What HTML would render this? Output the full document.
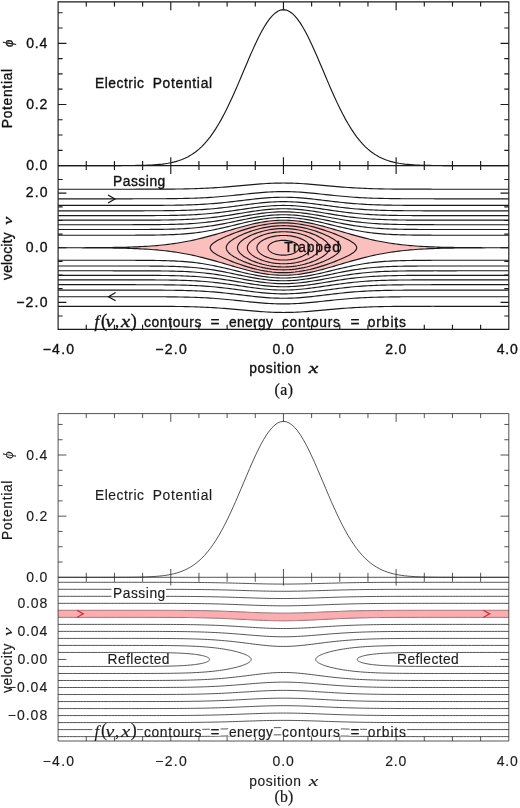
<!DOCTYPE html>
<html lang="en"><head><meta charset="utf-8"><title>Electron hole phase space</title>
<style>
html,body{margin:0;padding:0;background:#fff}
svg{display:block}
text{fill:#111}
.s{font-family:"Liberation Sans",sans-serif;font-size:13.8px}
.d{font-family:"Liberation Sans",sans-serif;font-size:14px}
.i{font-family:"Liberation Serif",serif;font-style:italic;font-size:16px}
.p{font-family:"Liberation Serif",serif;font-style:italic;font-size:14px}
.m{font-family:"Liberation Serif",serif;font-size:16.5px}
.mi{font-style:italic}
.mp{font-size:18px}
.r{font-family:"Liberation Serif",serif;font-size:15.8px}
.ta text{stroke:#111;stroke-width:.35px}
.ta .r,.tb .r{stroke:#111;stroke-width:.2px}
.tb text{fill:#1c1c1c;stroke:#1c1c1c;stroke-width:.15px}
</style></head><body>
<svg width="520" height="808" viewBox="0 0 520 808">
<rect width="520" height="808" fill="#fff"/>
<g fill="none" stroke="#1a1a1a" stroke-width="1.15" stroke-linecap="butt">
<path d="M58.1,247.74L60.92,247.74L63.73,247.74L66.55,247.73L69.37,247.73L72.18,247.73L75,247.72L77.82,247.71L80.63,247.71L83.45,247.7L86.27,247.69L89.09,247.68L91.9,247.66L94.72,247.65L97.54,247.63L100.35,247.61L103.17,247.59L105.99,247.56L108.8,247.52L111.62,247.49L114.44,247.44L117.25,247.39L120.07,247.34L122.89,247.28L125.71,247.2L128.52,247.12L131.34,247.03L134.16,246.93L136.97,246.81L139.79,246.68L142.61,246.54L145.42,246.38L148.24,246.2L151.06,246.01L153.87,245.79L156.69,245.56L159.51,245.3L162.32,245.02L165.14,244.71L167.96,244.38L170.78,244.02L173.59,243.63L176.41,243.22L179.23,242.77L182.04,242.3L184.86,241.79L187.68,241.25L190.49,240.69L193.31,240.09L196.13,239.46L198.94,238.8L201.76,238.12L204.58,237.41L207.39,236.67L210.21,235.91L213.03,235.13L215.84,234.34L218.66,233.53L221.48,232.7L224.3,231.87L227.11,231.04L229.93,230.2L232.75,229.37L235.56,228.55L238.38,227.74L241.2,226.95L244.01,226.18L246.83,225.44L249.65,224.73L252.46,224.06L255.28,223.43L258.1,222.85L260.92,222.31L263.73,221.83L266.55,221.41L269.37,221.04L272.18,220.74L275,220.5L277.82,220.33L280.63,220.23L283.45,220.2L286.27,220.23L289.08,220.33L291.9,220.5L294.72,220.74L297.53,221.04L300.35,221.41L303.17,221.83L305.99,222.31L308.8,222.85L311.62,223.43L314.44,224.06L317.25,224.73L320.07,225.44L322.89,226.18L325.7,226.95L328.52,227.74L331.34,228.55L334.15,229.37L336.97,230.2L339.79,231.04L342.6,231.87L345.42,232.7L348.24,233.53L351.06,234.34L353.87,235.13L356.69,235.91L359.51,236.67L362.32,237.41L365.14,238.12L367.96,238.8L370.77,239.46L373.59,240.09L376.41,240.69L379.22,241.25L382.04,241.79L384.86,242.3L387.67,242.77L390.49,243.22L393.31,243.63L396.12,244.02L398.94,244.38L401.76,244.71L404.58,245.02L407.39,245.3L410.21,245.56L413.03,245.79L415.84,246.01L418.66,246.2L421.48,246.38L424.29,246.54L427.11,246.68L429.93,246.81L432.74,246.93L435.56,247.03L438.38,247.12L441.2,247.2L444.01,247.28L446.83,247.34L449.65,247.39L452.46,247.44L455.28,247.49L458.1,247.52L460.91,247.56L463.73,247.59L466.55,247.61L469.36,247.63L472.18,247.65L475,247.66L477.81,247.68L480.63,247.69L483.45,247.7L486.27,247.71L489.08,247.71L491.9,247.72L494.72,247.73L497.53,247.73L500.35,247.73L503.17,247.74L505.98,247.74L508.8,247.74L508.8,247.76L505.98,247.76L503.17,247.76L500.35,247.77L497.53,247.77L494.72,247.77L491.9,247.78L489.08,247.79L486.27,247.79L483.45,247.8L480.63,247.81L477.81,247.82L475,247.84L472.18,247.85L469.36,247.87L466.55,247.89L463.73,247.91L460.91,247.94L458.1,247.98L455.28,248.01L452.46,248.06L449.65,248.11L446.83,248.16L444.01,248.22L441.2,248.3L438.38,248.38L435.56,248.47L432.74,248.57L429.93,248.69L427.11,248.82L424.29,248.96L421.48,249.12L418.66,249.3L415.84,249.49L413.03,249.71L410.21,249.94L407.39,250.2L404.58,250.48L401.76,250.79L398.94,251.12L396.12,251.48L393.31,251.87L390.49,252.28L387.67,252.73L384.86,253.2L382.04,253.71L379.22,254.25L376.41,254.81L373.59,255.41L370.77,256.04L367.96,256.7L365.14,257.38L362.32,258.09L359.51,258.83L356.69,259.59L353.87,260.37L351.06,261.16L348.24,261.97L345.42,262.8L342.6,263.63L339.79,264.46L336.97,265.3L334.15,266.13L331.34,266.95L328.52,267.76L325.7,268.55L322.89,269.32L320.07,270.06L317.25,270.77L314.44,271.44L311.62,272.07L308.8,272.65L305.99,273.19L303.17,273.67L300.35,274.09L297.53,274.46L294.72,274.76L291.9,275L289.08,275.17L286.27,275.27L283.45,275.3L280.63,275.27L277.82,275.17L275,275L272.18,274.76L269.37,274.46L266.55,274.09L263.73,273.67L260.92,273.19L258.1,272.65L255.28,272.07L252.46,271.44L249.65,270.77L246.83,270.06L244.01,269.32L241.2,268.55L238.38,267.76L235.56,266.95L232.75,266.13L229.93,265.3L227.11,264.46L224.3,263.63L221.48,262.8L218.66,261.97L215.84,261.16L213.03,260.37L210.21,259.59L207.39,258.83L204.58,258.09L201.76,257.38L198.94,256.7L196.13,256.04L193.31,255.41L190.49,254.81L187.68,254.25L184.86,253.71L182.04,253.2L179.23,252.73L176.41,252.28L173.59,251.87L170.78,251.48L167.96,251.12L165.14,250.79L162.32,250.48L159.51,250.2L156.69,249.94L153.87,249.71L151.06,249.49L148.24,249.3L145.42,249.12L142.61,248.96L139.79,248.82L136.97,248.69L134.16,248.57L131.34,248.47L128.52,248.38L125.71,248.3L122.89,248.22L120.07,248.16L117.25,248.11L114.44,248.06L111.62,248.01L108.8,247.98L105.99,247.94L103.17,247.91L100.35,247.89L97.54,247.87L94.72,247.85L91.9,247.84L89.09,247.82L86.27,247.81L83.45,247.8L80.63,247.79L77.82,247.79L75,247.78L72.18,247.77L69.37,247.77L66.55,247.77L63.73,247.76L60.92,247.76L58.1,247.76Z" fill="#fbbfbe" stroke="none"/>
<path d="M58.1,235.23L60.92,235.23L63.73,235.23L66.55,235.23L69.37,235.23L72.18,235.23L75,235.23L77.82,235.23L80.63,235.23L83.45,235.23L86.27,235.23L89.09,235.23L91.9,235.23L94.72,235.23L97.54,235.23L100.35,235.22L103.17,235.22L105.99,235.22L108.8,235.22L111.62,235.22L114.44,235.22L117.25,235.22L120.07,235.22L122.89,235.22L125.71,235.21L128.52,235.21L131.34,235.21L134.16,235.2L136.97,235.19L139.79,235.18L142.61,235.17L145.42,235.15L148.24,235.13L151.06,235.11L153.87,235.07L156.69,235.04L159.51,234.99L162.32,234.93L165.14,234.86L167.96,234.78L170.78,234.68L173.59,234.57L176.41,234.43L179.23,234.27L182.04,234.09L184.86,233.88L187.68,233.64L190.49,233.37L193.31,233.07L196.13,232.73L198.94,232.36L201.76,231.95L204.58,231.51L207.39,231.03L210.21,230.52L213.03,229.97L215.84,229.4L218.66,228.8L221.48,228.17L224.3,227.53L227.11,226.87L229.93,226.19L232.75,225.51L235.56,224.83L238.38,224.14L241.2,223.47L244.01,222.81L246.83,222.17L249.65,221.55L252.46,220.96L255.28,220.4L258.1,219.88L260.92,219.4L263.73,218.96L266.55,218.58L269.37,218.25L272.18,217.98L275,217.76L277.82,217.61L280.63,217.51L283.45,217.48L286.27,217.51L289.08,217.61L291.9,217.76L294.72,217.98L297.53,218.25L300.35,218.58L303.17,218.96L305.99,219.4L308.8,219.88L311.62,220.4L314.44,220.96L317.25,221.55L320.07,222.17L322.89,222.81L325.7,223.47L328.52,224.14L331.34,224.83L334.15,225.51L336.97,226.19L339.79,226.87L342.6,227.53L345.42,228.17L348.24,228.8L351.06,229.4L353.87,229.97L356.69,230.52L359.51,231.03L362.32,231.51L365.14,231.95L367.96,232.36L370.77,232.73L373.59,233.07L376.41,233.37L379.22,233.64L382.04,233.88L384.86,234.09L387.67,234.27L390.49,234.43L393.31,234.57L396.12,234.68L398.94,234.78L401.76,234.86L404.58,234.93L407.39,234.99L410.21,235.04L413.03,235.07L415.84,235.11L418.66,235.13L421.48,235.15L424.29,235.17L427.11,235.18L429.93,235.19L432.74,235.2L435.56,235.21L438.38,235.21L441.2,235.21L444.01,235.22L446.83,235.22L449.65,235.22L452.46,235.22L455.28,235.22L458.1,235.22L460.91,235.22L463.73,235.22L466.55,235.22L469.36,235.23L472.18,235.23L475,235.23L477.81,235.23L480.63,235.23L483.45,235.23L486.27,235.23L489.08,235.23L491.9,235.23L494.72,235.23L497.53,235.23L500.35,235.23L503.17,235.23L505.98,235.23L508.8,235.23M58.1,260.27L60.92,260.27L63.73,260.27L66.55,260.27L69.37,260.27L72.18,260.27L75,260.27L77.82,260.27L80.63,260.27L83.45,260.27L86.27,260.27L89.09,260.27L91.9,260.27L94.72,260.27L97.54,260.27L100.35,260.28L103.17,260.28L105.99,260.28L108.8,260.28L111.62,260.28L114.44,260.28L117.25,260.28L120.07,260.28L122.89,260.28L125.71,260.29L128.52,260.29L131.34,260.29L134.16,260.3L136.97,260.31L139.79,260.32L142.61,260.33L145.42,260.35L148.24,260.37L151.06,260.39L153.87,260.43L156.69,260.46L159.51,260.51L162.32,260.57L165.14,260.64L167.96,260.72L170.78,260.82L173.59,260.93L176.41,261.07L179.23,261.23L182.04,261.41L184.86,261.62L187.68,261.86L190.49,262.13L193.31,262.43L196.13,262.77L198.94,263.14L201.76,263.55L204.58,263.99L207.39,264.47L210.21,264.98L213.03,265.53L215.84,266.1L218.66,266.7L221.48,267.33L224.3,267.97L227.11,268.63L229.93,269.31L232.75,269.99L235.56,270.67L238.38,271.36L241.2,272.03L244.01,272.69L246.83,273.33L249.65,273.95L252.46,274.54L255.28,275.1L258.1,275.62L260.92,276.1L263.73,276.54L266.55,276.92L269.37,277.25L272.18,277.52L275,277.74L277.82,277.89L280.63,277.99L283.45,278.02L286.27,277.99L289.08,277.89L291.9,277.74L294.72,277.52L297.53,277.25L300.35,276.92L303.17,276.54L305.99,276.1L308.8,275.62L311.62,275.1L314.44,274.54L317.25,273.95L320.07,273.33L322.89,272.69L325.7,272.03L328.52,271.36L331.34,270.67L334.15,269.99L336.97,269.31L339.79,268.63L342.6,267.97L345.42,267.33L348.24,266.7L351.06,266.1L353.87,265.53L356.69,264.98L359.51,264.47L362.32,263.99L365.14,263.55L367.96,263.14L370.77,262.77L373.59,262.43L376.41,262.13L379.22,261.86L382.04,261.62L384.86,261.41L387.67,261.23L390.49,261.07L393.31,260.93L396.12,260.82L398.94,260.72L401.76,260.64L404.58,260.57L407.39,260.51L410.21,260.46L413.03,260.43L415.84,260.39L418.66,260.37L421.48,260.35L424.29,260.33L427.11,260.32L429.93,260.31L432.74,260.3L435.56,260.29L438.38,260.29L441.2,260.29L444.01,260.28L446.83,260.28L449.65,260.28L452.46,260.28L455.28,260.28L458.1,260.28L460.91,260.28L463.73,260.28L466.55,260.28L469.36,260.27L472.18,260.27L475,260.27L477.81,260.27L480.63,260.27L483.45,260.27L486.27,260.27L489.08,260.27L491.9,260.27L494.72,260.27L497.53,260.27L500.35,260.27L503.17,260.27L505.98,260.27L508.8,260.27M58.1,229.52L60.92,229.52L63.73,229.52L66.55,229.52L69.37,229.52L72.18,229.52L75,229.52L77.82,229.52L80.63,229.52L83.45,229.52L86.27,229.52L89.09,229.52L91.9,229.52L94.72,229.52L97.54,229.52L100.35,229.52L103.17,229.52L105.99,229.52L108.8,229.52L111.62,229.52L114.44,229.52L117.25,229.52L120.07,229.52L122.89,229.52L125.71,229.52L128.52,229.51L131.34,229.51L134.16,229.5L136.97,229.5L139.79,229.49L142.61,229.48L145.42,229.47L148.24,229.46L151.06,229.44L153.87,229.42L156.69,229.39L159.51,229.36L162.32,229.32L165.14,229.27L167.96,229.21L170.78,229.15L173.59,229.06L176.41,228.97L179.23,228.86L182.04,228.73L184.86,228.57L187.68,228.4L190.49,228.2L193.31,227.98L196.13,227.73L198.94,227.45L201.76,227.14L204.58,226.79L207.39,226.42L210.21,226.02L213.03,225.58L215.84,225.12L218.66,224.63L221.48,224.11L224.3,223.58L227.11,223.02L229.93,222.45L232.75,221.87L235.56,221.28L238.38,220.68L241.2,220.09L244.01,219.51L246.83,218.94L249.65,218.39L252.46,217.86L255.28,217.36L258.1,216.89L260.92,216.46L263.73,216.07L266.55,215.72L269.37,215.42L272.18,215.17L275,214.97L277.82,214.83L280.63,214.74L283.45,214.71L286.27,214.74L289.08,214.83L291.9,214.97L294.72,215.17L297.53,215.42L300.35,215.72L303.17,216.07L305.99,216.46L308.8,216.89L311.62,217.36L314.44,217.86L317.25,218.39L320.07,218.94L322.89,219.51L325.7,220.09L328.52,220.68L331.34,221.28L334.15,221.87L336.97,222.45L339.79,223.02L342.6,223.58L345.42,224.11L348.24,224.63L351.06,225.12L353.87,225.58L356.69,226.02L359.51,226.42L362.32,226.79L365.14,227.14L367.96,227.45L370.77,227.73L373.59,227.98L376.41,228.2L379.22,228.4L382.04,228.57L384.86,228.73L387.67,228.86L390.49,228.97L393.31,229.06L396.12,229.15L398.94,229.21L401.76,229.27L404.58,229.32L407.39,229.36L410.21,229.39L413.03,229.42L415.84,229.44L418.66,229.46L421.48,229.47L424.29,229.48L427.11,229.49L429.93,229.5L432.74,229.5L435.56,229.51L438.38,229.51L441.2,229.52L444.01,229.52L446.83,229.52L449.65,229.52L452.46,229.52L455.28,229.52L458.1,229.52L460.91,229.52L463.73,229.52L466.55,229.52L469.36,229.52L472.18,229.52L475,229.52L477.81,229.52L480.63,229.52L483.45,229.52L486.27,229.52L489.08,229.52L491.9,229.52L494.72,229.52L497.53,229.52L500.35,229.52L503.17,229.52L505.98,229.52L508.8,229.52M58.1,265.98L60.92,265.98L63.73,265.98L66.55,265.98L69.37,265.98L72.18,265.98L75,265.98L77.82,265.98L80.63,265.98L83.45,265.98L86.27,265.98L89.09,265.98L91.9,265.98L94.72,265.98L97.54,265.98L100.35,265.98L103.17,265.98L105.99,265.98L108.8,265.98L111.62,265.98L114.44,265.98L117.25,265.98L120.07,265.98L122.89,265.98L125.71,265.98L128.52,265.99L131.34,265.99L134.16,266L136.97,266L139.79,266.01L142.61,266.02L145.42,266.03L148.24,266.04L151.06,266.06L153.87,266.08L156.69,266.11L159.51,266.14L162.32,266.18L165.14,266.23L167.96,266.29L170.78,266.35L173.59,266.44L176.41,266.53L179.23,266.64L182.04,266.77L184.86,266.93L187.68,267.1L190.49,267.3L193.31,267.52L196.13,267.77L198.94,268.05L201.76,268.36L204.58,268.71L207.39,269.08L210.21,269.48L213.03,269.92L215.84,270.38L218.66,270.87L221.48,271.39L224.3,271.92L227.11,272.48L229.93,273.05L232.75,273.63L235.56,274.22L238.38,274.82L241.2,275.41L244.01,275.99L246.83,276.56L249.65,277.11L252.46,277.64L255.28,278.14L258.1,278.61L260.92,279.04L263.73,279.43L266.55,279.78L269.37,280.08L272.18,280.33L275,280.53L277.82,280.67L280.63,280.76L283.45,280.79L286.27,280.76L289.08,280.67L291.9,280.53L294.72,280.33L297.53,280.08L300.35,279.78L303.17,279.43L305.99,279.04L308.8,278.61L311.62,278.14L314.44,277.64L317.25,277.11L320.07,276.56L322.89,275.99L325.7,275.41L328.52,274.82L331.34,274.22L334.15,273.63L336.97,273.05L339.79,272.48L342.6,271.92L345.42,271.39L348.24,270.87L351.06,270.38L353.87,269.92L356.69,269.48L359.51,269.08L362.32,268.71L365.14,268.36L367.96,268.05L370.77,267.77L373.59,267.52L376.41,267.3L379.22,267.1L382.04,266.93L384.86,266.77L387.67,266.64L390.49,266.53L393.31,266.44L396.12,266.35L398.94,266.29L401.76,266.23L404.58,266.18L407.39,266.14L410.21,266.11L413.03,266.08L415.84,266.06L418.66,266.04L421.48,266.03L424.29,266.02L427.11,266.01L429.93,266L432.74,266L435.56,265.99L438.38,265.99L441.2,265.98L444.01,265.98L446.83,265.98L449.65,265.98L452.46,265.98L455.28,265.98L458.1,265.98L460.91,265.98L463.73,265.98L466.55,265.98L469.36,265.98L472.18,265.98L475,265.98L477.81,265.98L480.63,265.98L483.45,265.98L486.27,265.98L489.08,265.98L491.9,265.98L494.72,265.98L497.53,265.98L500.35,265.98L503.17,265.98L505.98,265.98L508.8,265.98M58.1,224.71L60.92,224.71L63.73,224.71L66.55,224.71L69.37,224.71L72.18,224.71L75,224.71L77.82,224.71L80.63,224.71L83.45,224.71L86.27,224.71L89.09,224.71L91.9,224.71L94.72,224.71L97.54,224.71L100.35,224.71L103.17,224.71L105.99,224.71L108.8,224.71L111.62,224.7L114.44,224.7L117.25,224.7L120.07,224.7L122.89,224.7L125.71,224.7L128.52,224.7L131.34,224.7L134.16,224.69L136.97,224.69L139.79,224.68L142.61,224.67L145.42,224.67L148.24,224.65L151.06,224.64L153.87,224.62L156.69,224.6L159.51,224.58L162.32,224.55L165.14,224.51L167.96,224.46L170.78,224.41L173.59,224.34L176.41,224.27L179.23,224.18L182.04,224.07L184.86,223.95L187.68,223.81L190.49,223.65L193.31,223.47L196.13,223.26L198.94,223.03L201.76,222.78L204.58,222.49L207.39,222.18L210.21,221.84L213.03,221.48L215.84,221.09L218.66,220.67L221.48,220.23L224.3,219.77L227.11,219.28L229.93,218.79L232.75,218.28L235.56,217.76L238.38,217.23L241.2,216.71L244.01,216.19L246.83,215.68L249.65,215.18L252.46,214.7L255.28,214.25L258.1,213.82L260.92,213.43L263.73,213.07L266.55,212.75L269.37,212.48L272.18,212.25L275,212.07L277.82,211.93L280.63,211.86L283.45,211.83L286.27,211.86L289.08,211.93L291.9,212.07L294.72,212.25L297.53,212.48L300.35,212.75L303.17,213.07L305.99,213.43L308.8,213.82L311.62,214.25L314.44,214.7L317.25,215.18L320.07,215.68L322.89,216.19L325.7,216.71L328.52,217.23L331.34,217.76L334.15,218.28L336.97,218.79L339.79,219.28L342.6,219.77L345.42,220.23L348.24,220.67L351.06,221.09L353.87,221.48L356.69,221.84L359.51,222.18L362.32,222.49L365.14,222.78L367.96,223.03L370.77,223.26L373.59,223.47L376.41,223.65L379.22,223.81L382.04,223.95L384.86,224.07L387.67,224.18L390.49,224.27L393.31,224.34L396.12,224.41L398.94,224.46L401.76,224.51L404.58,224.55L407.39,224.58L410.21,224.6L413.03,224.62L415.84,224.64L418.66,224.65L421.48,224.67L424.29,224.67L427.11,224.68L429.93,224.69L432.74,224.69L435.56,224.7L438.38,224.7L441.2,224.7L444.01,224.7L446.83,224.7L449.65,224.7L452.46,224.7L455.28,224.7L458.1,224.71L460.91,224.71L463.73,224.71L466.55,224.71L469.36,224.71L472.18,224.71L475,224.71L477.81,224.71L480.63,224.71L483.45,224.71L486.27,224.71L489.08,224.71L491.9,224.71L494.72,224.71L497.53,224.71L500.35,224.71L503.17,224.71L505.98,224.71L508.8,224.71M58.1,270.79L60.92,270.79L63.73,270.79L66.55,270.79L69.37,270.79L72.18,270.79L75,270.79L77.82,270.79L80.63,270.79L83.45,270.79L86.27,270.79L89.09,270.79L91.9,270.79L94.72,270.79L97.54,270.79L100.35,270.79L103.17,270.79L105.99,270.79L108.8,270.79L111.62,270.8L114.44,270.8L117.25,270.8L120.07,270.8L122.89,270.8L125.71,270.8L128.52,270.8L131.34,270.8L134.16,270.81L136.97,270.81L139.79,270.82L142.61,270.83L145.42,270.83L148.24,270.85L151.06,270.86L153.87,270.88L156.69,270.9L159.51,270.92L162.32,270.95L165.14,270.99L167.96,271.04L170.78,271.09L173.59,271.16L176.41,271.23L179.23,271.32L182.04,271.43L184.86,271.55L187.68,271.69L190.49,271.85L193.31,272.03L196.13,272.24L198.94,272.47L201.76,272.72L204.58,273.01L207.39,273.32L210.21,273.66L213.03,274.02L215.84,274.41L218.66,274.83L221.48,275.27L224.3,275.73L227.11,276.22L229.93,276.71L232.75,277.22L235.56,277.74L238.38,278.27L241.2,278.79L244.01,279.31L246.83,279.82L249.65,280.32L252.46,280.8L255.28,281.25L258.1,281.68L260.92,282.07L263.73,282.43L266.55,282.75L269.37,283.02L272.18,283.25L275,283.43L277.82,283.57L280.63,283.64L283.45,283.67L286.27,283.64L289.08,283.57L291.9,283.43L294.72,283.25L297.53,283.02L300.35,282.75L303.17,282.43L305.99,282.07L308.8,281.68L311.62,281.25L314.44,280.8L317.25,280.32L320.07,279.82L322.89,279.31L325.7,278.79L328.52,278.27L331.34,277.74L334.15,277.22L336.97,276.71L339.79,276.22L342.6,275.73L345.42,275.27L348.24,274.83L351.06,274.41L353.87,274.02L356.69,273.66L359.51,273.32L362.32,273.01L365.14,272.72L367.96,272.47L370.77,272.24L373.59,272.03L376.41,271.85L379.22,271.69L382.04,271.55L384.86,271.43L387.67,271.32L390.49,271.23L393.31,271.16L396.12,271.09L398.94,271.04L401.76,270.99L404.58,270.95L407.39,270.92L410.21,270.9L413.03,270.88L415.84,270.86L418.66,270.85L421.48,270.83L424.29,270.83L427.11,270.82L429.93,270.81L432.74,270.81L435.56,270.8L438.38,270.8L441.2,270.8L444.01,270.8L446.83,270.8L449.65,270.8L452.46,270.8L455.28,270.8L458.1,270.79L460.91,270.79L463.73,270.79L466.55,270.79L469.36,270.79L472.18,270.79L475,270.79L477.81,270.79L480.63,270.79L483.45,270.79L486.27,270.79L489.08,270.79L491.9,270.79L494.72,270.79L497.53,270.79L500.35,270.79L503.17,270.79L505.98,270.79L508.8,270.79M58.1,220.17L60.92,220.17L63.73,220.17L66.55,220.17L69.37,220.17L72.18,220.17L75,220.17L77.82,220.17L80.63,220.17L83.45,220.17L86.27,220.17L89.09,220.17L91.9,220.17L94.72,220.17L97.54,220.17L100.35,220.17L103.17,220.17L105.99,220.17L108.8,220.17L111.62,220.17L114.44,220.17L117.25,220.17L120.07,220.17L122.89,220.17L125.71,220.17L128.52,220.17L131.34,220.16L134.16,220.16L136.97,220.16L139.79,220.15L142.61,220.15L145.42,220.14L148.24,220.13L151.06,220.12L153.87,220.1L156.69,220.09L159.51,220.06L162.32,220.04L165.14,220.01L167.96,219.97L170.78,219.92L173.59,219.87L176.41,219.8L179.23,219.73L182.04,219.64L184.86,219.54L187.68,219.42L190.49,219.28L193.31,219.13L196.13,218.95L198.94,218.76L201.76,218.54L204.58,218.3L207.39,218.03L210.21,217.74L213.03,217.42L215.84,217.08L218.66,216.72L221.48,216.33L224.3,215.93L227.11,215.5L229.93,215.06L232.75,214.61L235.56,214.15L238.38,213.68L241.2,213.21L244.01,212.74L246.83,212.28L249.65,211.83L252.46,211.4L255.28,210.98L258.1,210.59L260.92,210.23L263.73,209.91L266.55,209.61L269.37,209.36L272.18,209.15L275,208.98L277.82,208.86L280.63,208.79L283.45,208.77L286.27,208.79L289.08,208.86L291.9,208.98L294.72,209.15L297.53,209.36L300.35,209.61L303.17,209.91L305.99,210.23L308.8,210.59L311.62,210.98L314.44,211.4L317.25,211.83L320.07,212.28L322.89,212.74L325.7,213.21L328.52,213.68L331.34,214.15L334.15,214.61L336.97,215.06L339.79,215.5L342.6,215.93L345.42,216.33L348.24,216.72L351.06,217.08L353.87,217.42L356.69,217.74L359.51,218.03L362.32,218.3L365.14,218.54L367.96,218.76L370.77,218.95L373.59,219.13L376.41,219.28L379.22,219.42L382.04,219.54L384.86,219.64L387.67,219.73L390.49,219.8L393.31,219.87L396.12,219.92L398.94,219.97L401.76,220.01L404.58,220.04L407.39,220.06L410.21,220.09L413.03,220.1L415.84,220.12L418.66,220.13L421.48,220.14L424.29,220.15L427.11,220.15L429.93,220.16L432.74,220.16L435.56,220.16L438.38,220.17L441.2,220.17L444.01,220.17L446.83,220.17L449.65,220.17L452.46,220.17L455.28,220.17L458.1,220.17L460.91,220.17L463.73,220.17L466.55,220.17L469.36,220.17L472.18,220.17L475,220.17L477.81,220.17L480.63,220.17L483.45,220.17L486.27,220.17L489.08,220.17L491.9,220.17L494.72,220.17L497.53,220.17L500.35,220.17L503.17,220.17L505.98,220.17L508.8,220.17M58.1,275.33L60.92,275.33L63.73,275.33L66.55,275.33L69.37,275.33L72.18,275.33L75,275.33L77.82,275.33L80.63,275.33L83.45,275.33L86.27,275.33L89.09,275.33L91.9,275.33L94.72,275.33L97.54,275.33L100.35,275.33L103.17,275.33L105.99,275.33L108.8,275.33L111.62,275.33L114.44,275.33L117.25,275.33L120.07,275.33L122.89,275.33L125.71,275.33L128.52,275.33L131.34,275.34L134.16,275.34L136.97,275.34L139.79,275.35L142.61,275.35L145.42,275.36L148.24,275.37L151.06,275.38L153.87,275.4L156.69,275.41L159.51,275.44L162.32,275.46L165.14,275.49L167.96,275.53L170.78,275.58L173.59,275.63L176.41,275.7L179.23,275.77L182.04,275.86L184.86,275.96L187.68,276.08L190.49,276.22L193.31,276.37L196.13,276.55L198.94,276.74L201.76,276.96L204.58,277.2L207.39,277.47L210.21,277.76L213.03,278.08L215.84,278.42L218.66,278.78L221.48,279.17L224.3,279.57L227.11,280L229.93,280.44L232.75,280.89L235.56,281.35L238.38,281.82L241.2,282.29L244.01,282.76L246.83,283.22L249.65,283.67L252.46,284.1L255.28,284.52L258.1,284.91L260.92,285.27L263.73,285.59L266.55,285.89L269.37,286.14L272.18,286.35L275,286.52L277.82,286.64L280.63,286.71L283.45,286.73L286.27,286.71L289.08,286.64L291.9,286.52L294.72,286.35L297.53,286.14L300.35,285.89L303.17,285.59L305.99,285.27L308.8,284.91L311.62,284.52L314.44,284.1L317.25,283.67L320.07,283.22L322.89,282.76L325.7,282.29L328.52,281.82L331.34,281.35L334.15,280.89L336.97,280.44L339.79,280L342.6,279.57L345.42,279.17L348.24,278.78L351.06,278.42L353.87,278.08L356.69,277.76L359.51,277.47L362.32,277.2L365.14,276.96L367.96,276.74L370.77,276.55L373.59,276.37L376.41,276.22L379.22,276.08L382.04,275.96L384.86,275.86L387.67,275.77L390.49,275.7L393.31,275.63L396.12,275.58L398.94,275.53L401.76,275.49L404.58,275.46L407.39,275.44L410.21,275.41L413.03,275.4L415.84,275.38L418.66,275.37L421.48,275.36L424.29,275.35L427.11,275.35L429.93,275.34L432.74,275.34L435.56,275.34L438.38,275.33L441.2,275.33L444.01,275.33L446.83,275.33L449.65,275.33L452.46,275.33L455.28,275.33L458.1,275.33L460.91,275.33L463.73,275.33L466.55,275.33L469.36,275.33L472.18,275.33L475,275.33L477.81,275.33L480.63,275.33L483.45,275.33L486.27,275.33L489.08,275.33L491.9,275.33L494.72,275.33L497.53,275.33L500.35,275.33L503.17,275.33L505.98,275.33L508.8,275.33M58.1,215.63L60.92,215.63L63.73,215.63L66.55,215.63L69.37,215.63L72.18,215.63L75,215.63L77.82,215.63L80.63,215.63L83.45,215.63L86.27,215.63L89.09,215.63L91.9,215.63L94.72,215.63L97.54,215.63L100.35,215.63L103.17,215.63L105.99,215.63L108.8,215.63L111.62,215.63L114.44,215.62L117.25,215.62L120.07,215.62L122.89,215.62L125.71,215.62L128.52,215.62L131.34,215.62L134.16,215.62L136.97,215.61L139.79,215.61L142.61,215.6L145.42,215.6L148.24,215.59L151.06,215.58L153.87,215.57L156.69,215.55L159.51,215.53L162.32,215.51L165.14,215.48L167.96,215.45L170.78,215.41L173.59,215.36L176.41,215.31L179.23,215.24L182.04,215.17L184.86,215.08L187.68,214.98L190.49,214.86L193.31,214.73L196.13,214.57L198.94,214.4L201.76,214.21L204.58,214L207.39,213.77L210.21,213.52L213.03,213.24L215.84,212.94L218.66,212.62L221.48,212.28L224.3,211.92L227.11,211.54L229.93,211.15L232.75,210.74L235.56,210.33L238.38,209.9L241.2,209.48L244.01,209.06L246.83,208.64L249.65,208.23L252.46,207.84L255.28,207.46L258.1,207.11L260.92,206.78L263.73,206.47L266.55,206.21L269.37,205.97L272.18,205.78L275,205.63L277.82,205.52L280.63,205.45L283.45,205.43L286.27,205.45L289.08,205.52L291.9,205.63L294.72,205.78L297.53,205.97L300.35,206.21L303.17,206.47L305.99,206.78L308.8,207.11L311.62,207.46L314.44,207.84L317.25,208.23L320.07,208.64L322.89,209.06L325.7,209.48L328.52,209.9L331.34,210.33L334.15,210.74L336.97,211.15L339.79,211.54L342.6,211.92L345.42,212.28L348.24,212.62L351.06,212.94L353.87,213.24L356.69,213.52L359.51,213.77L362.32,214L365.14,214.21L367.96,214.4L370.77,214.57L373.59,214.73L376.41,214.86L379.22,214.98L382.04,215.08L384.86,215.17L387.67,215.24L390.49,215.31L393.31,215.36L396.12,215.41L398.94,215.45L401.76,215.48L404.58,215.51L407.39,215.53L410.21,215.55L413.03,215.57L415.84,215.58L418.66,215.59L421.48,215.6L424.29,215.6L427.11,215.61L429.93,215.61L432.74,215.62L435.56,215.62L438.38,215.62L441.2,215.62L444.01,215.62L446.83,215.62L449.65,215.62L452.46,215.62L455.28,215.63L458.1,215.63L460.91,215.63L463.73,215.63L466.55,215.63L469.36,215.63L472.18,215.63L475,215.63L477.81,215.63L480.63,215.63L483.45,215.63L486.27,215.63L489.08,215.63L491.9,215.63L494.72,215.63L497.53,215.63L500.35,215.63L503.17,215.63L505.98,215.63L508.8,215.63M58.1,279.87L60.92,279.87L63.73,279.87L66.55,279.87L69.37,279.87L72.18,279.87L75,279.87L77.82,279.87L80.63,279.87L83.45,279.87L86.27,279.87L89.09,279.87L91.9,279.87L94.72,279.87L97.54,279.87L100.35,279.87L103.17,279.87L105.99,279.87L108.8,279.87L111.62,279.87L114.44,279.88L117.25,279.88L120.07,279.88L122.89,279.88L125.71,279.88L128.52,279.88L131.34,279.88L134.16,279.88L136.97,279.89L139.79,279.89L142.61,279.9L145.42,279.9L148.24,279.91L151.06,279.92L153.87,279.93L156.69,279.95L159.51,279.97L162.32,279.99L165.14,280.02L167.96,280.05L170.78,280.09L173.59,280.14L176.41,280.19L179.23,280.26L182.04,280.33L184.86,280.42L187.68,280.52L190.49,280.64L193.31,280.77L196.13,280.93L198.94,281.1L201.76,281.29L204.58,281.5L207.39,281.73L210.21,281.98L213.03,282.26L215.84,282.56L218.66,282.88L221.48,283.22L224.3,283.58L227.11,283.96L229.93,284.35L232.75,284.76L235.56,285.17L238.38,285.6L241.2,286.02L244.01,286.44L246.83,286.86L249.65,287.27L252.46,287.66L255.28,288.04L258.1,288.39L260.92,288.72L263.73,289.03L266.55,289.29L269.37,289.53L272.18,289.72L275,289.87L277.82,289.98L280.63,290.05L283.45,290.07L286.27,290.05L289.08,289.98L291.9,289.87L294.72,289.72L297.53,289.53L300.35,289.29L303.17,289.03L305.99,288.72L308.8,288.39L311.62,288.04L314.44,287.66L317.25,287.27L320.07,286.86L322.89,286.44L325.7,286.02L328.52,285.6L331.34,285.17L334.15,284.76L336.97,284.35L339.79,283.96L342.6,283.58L345.42,283.22L348.24,282.88L351.06,282.56L353.87,282.26L356.69,281.98L359.51,281.73L362.32,281.5L365.14,281.29L367.96,281.1L370.77,280.93L373.59,280.77L376.41,280.64L379.22,280.52L382.04,280.42L384.86,280.33L387.67,280.26L390.49,280.19L393.31,280.14L396.12,280.09L398.94,280.05L401.76,280.02L404.58,279.99L407.39,279.97L410.21,279.95L413.03,279.93L415.84,279.92L418.66,279.91L421.48,279.9L424.29,279.9L427.11,279.89L429.93,279.89L432.74,279.88L435.56,279.88L438.38,279.88L441.2,279.88L444.01,279.88L446.83,279.88L449.65,279.88L452.46,279.88L455.28,279.87L458.1,279.87L460.91,279.87L463.73,279.87L466.55,279.87L469.36,279.87L472.18,279.87L475,279.87L477.81,279.87L480.63,279.87L483.45,279.87L486.27,279.87L489.08,279.87L491.9,279.87L494.72,279.87L497.53,279.87L500.35,279.87L503.17,279.87L505.98,279.87L508.8,279.87M58.1,210.82L60.92,210.82L63.73,210.82L66.55,210.82L69.37,210.82L72.18,210.82L75,210.82L77.82,210.82L80.63,210.82L83.45,210.82L86.27,210.82L89.09,210.82L91.9,210.82L94.72,210.82L97.54,210.82L100.35,210.82L103.17,210.82L105.99,210.82L108.8,210.82L111.62,210.81L114.44,210.81L117.25,210.81L120.07,210.81L122.89,210.81L125.71,210.81L128.52,210.81L131.34,210.81L134.16,210.81L136.97,210.8L139.79,210.8L142.61,210.8L145.42,210.79L148.24,210.78L151.06,210.77L153.87,210.76L156.69,210.75L159.51,210.73L162.32,210.71L165.14,210.69L167.96,210.66L170.78,210.63L173.59,210.59L176.41,210.54L179.23,210.48L182.04,210.42L184.86,210.34L187.68,210.25L190.49,210.15L193.31,210.03L196.13,209.9L198.94,209.75L201.76,209.58L204.58,209.4L207.39,209.19L210.21,208.97L213.03,208.72L215.84,208.46L218.66,208.17L221.48,207.87L224.3,207.55L227.11,207.21L229.93,206.86L232.75,206.5L235.56,206.12L238.38,205.74L241.2,205.36L244.01,204.98L246.83,204.6L249.65,204.23L252.46,203.87L255.28,203.53L258.1,203.21L260.92,202.9L263.73,202.63L266.55,202.38L269.37,202.17L272.18,201.99L275,201.85L277.82,201.75L280.63,201.69L283.45,201.67L286.27,201.69L289.08,201.75L291.9,201.85L294.72,201.99L297.53,202.17L300.35,202.38L303.17,202.63L305.99,202.9L308.8,203.21L311.62,203.53L314.44,203.87L317.25,204.23L320.07,204.6L322.89,204.98L325.7,205.36L328.52,205.74L331.34,206.12L334.15,206.5L336.97,206.86L339.79,207.21L342.6,207.55L345.42,207.87L348.24,208.17L351.06,208.46L353.87,208.72L356.69,208.97L359.51,209.19L362.32,209.4L365.14,209.58L367.96,209.75L370.77,209.9L373.59,210.03L376.41,210.15L379.22,210.25L382.04,210.34L384.86,210.42L387.67,210.48L390.49,210.54L393.31,210.59L396.12,210.63L398.94,210.66L401.76,210.69L404.58,210.71L407.39,210.73L410.21,210.75L413.03,210.76L415.84,210.77L418.66,210.78L421.48,210.79L424.29,210.8L427.11,210.8L429.93,210.8L432.74,210.81L435.56,210.81L438.38,210.81L441.2,210.81L444.01,210.81L446.83,210.81L449.65,210.81L452.46,210.81L455.28,210.81L458.1,210.82L460.91,210.82L463.73,210.82L466.55,210.82L469.36,210.82L472.18,210.82L475,210.82L477.81,210.82L480.63,210.82L483.45,210.82L486.27,210.82L489.08,210.82L491.9,210.82L494.72,210.82L497.53,210.82L500.35,210.82L503.17,210.82L505.98,210.82L508.8,210.82M58.1,284.68L60.92,284.68L63.73,284.68L66.55,284.68L69.37,284.68L72.18,284.68L75,284.68L77.82,284.68L80.63,284.68L83.45,284.68L86.27,284.68L89.09,284.68L91.9,284.68L94.72,284.68L97.54,284.68L100.35,284.68L103.17,284.68L105.99,284.68L108.8,284.68L111.62,284.69L114.44,284.69L117.25,284.69L120.07,284.69L122.89,284.69L125.71,284.69L128.52,284.69L131.34,284.69L134.16,284.69L136.97,284.7L139.79,284.7L142.61,284.7L145.42,284.71L148.24,284.72L151.06,284.73L153.87,284.74L156.69,284.75L159.51,284.77L162.32,284.79L165.14,284.81L167.96,284.84L170.78,284.87L173.59,284.91L176.41,284.96L179.23,285.02L182.04,285.08L184.86,285.16L187.68,285.25L190.49,285.35L193.31,285.47L196.13,285.6L198.94,285.75L201.76,285.92L204.58,286.1L207.39,286.31L210.21,286.53L213.03,286.78L215.84,287.04L218.66,287.33L221.48,287.63L224.3,287.95L227.11,288.29L229.93,288.64L232.75,289L235.56,289.38L238.38,289.76L241.2,290.14L244.01,290.52L246.83,290.9L249.65,291.27L252.46,291.63L255.28,291.97L258.1,292.29L260.92,292.6L263.73,292.87L266.55,293.12L269.37,293.33L272.18,293.51L275,293.65L277.82,293.75L280.63,293.81L283.45,293.83L286.27,293.81L289.08,293.75L291.9,293.65L294.72,293.51L297.53,293.33L300.35,293.12L303.17,292.87L305.99,292.6L308.8,292.29L311.62,291.97L314.44,291.63L317.25,291.27L320.07,290.9L322.89,290.52L325.7,290.14L328.52,289.76L331.34,289.38L334.15,289L336.97,288.64L339.79,288.29L342.6,287.95L345.42,287.63L348.24,287.33L351.06,287.04L353.87,286.78L356.69,286.53L359.51,286.31L362.32,286.1L365.14,285.92L367.96,285.75L370.77,285.6L373.59,285.47L376.41,285.35L379.22,285.25L382.04,285.16L384.86,285.08L387.67,285.02L390.49,284.96L393.31,284.91L396.12,284.87L398.94,284.84L401.76,284.81L404.58,284.79L407.39,284.77L410.21,284.75L413.03,284.74L415.84,284.73L418.66,284.72L421.48,284.71L424.29,284.7L427.11,284.7L429.93,284.7L432.74,284.69L435.56,284.69L438.38,284.69L441.2,284.69L444.01,284.69L446.83,284.69L449.65,284.69L452.46,284.69L455.28,284.69L458.1,284.68L460.91,284.68L463.73,284.68L466.55,284.68L469.36,284.68L472.18,284.68L475,284.68L477.81,284.68L480.63,284.68L483.45,284.68L486.27,284.68L489.08,284.68L491.9,284.68L494.72,284.68L497.53,284.68L500.35,284.68L503.17,284.68L505.98,284.68L508.8,284.68M58.1,205.41L60.92,205.41L63.73,205.41L66.55,205.41L69.37,205.41L72.18,205.41L75,205.41L77.82,205.41L80.63,205.41L83.45,205.41L86.27,205.41L89.09,205.41L91.9,205.41L94.72,205.41L97.54,205.41L100.35,205.41L103.17,205.41L105.99,205.41L108.8,205.41L111.62,205.41L114.44,205.41L117.25,205.41L120.07,205.41L122.89,205.41L125.71,205.41L128.52,205.41L131.34,205.41L134.16,205.4L136.97,205.4L139.79,205.4L142.61,205.4L145.42,205.39L148.24,205.38L151.06,205.38L153.87,205.37L156.69,205.36L159.51,205.34L162.32,205.32L165.14,205.3L167.96,205.28L170.78,205.25L173.59,205.21L176.41,205.17L179.23,205.12L182.04,205.06L184.86,205L187.68,204.92L190.49,204.83L193.31,204.73L196.13,204.61L198.94,204.48L201.76,204.33L204.58,204.17L207.39,203.99L210.21,203.79L213.03,203.57L215.84,203.34L218.66,203.09L221.48,202.82L224.3,202.53L227.11,202.23L229.93,201.92L232.75,201.6L235.56,201.26L238.38,200.92L241.2,200.58L244.01,200.24L246.83,199.9L249.65,199.56L252.46,199.24L255.28,198.93L258.1,198.63L260.92,198.36L263.73,198.11L266.55,197.89L269.37,197.69L272.18,197.53L275,197.4L277.82,197.31L280.63,197.25L283.45,197.24L286.27,197.25L289.08,197.31L291.9,197.4L294.72,197.53L297.53,197.69L300.35,197.89L303.17,198.11L305.99,198.36L308.8,198.63L311.62,198.93L314.44,199.24L317.25,199.56L320.07,199.9L322.89,200.24L325.7,200.58L328.52,200.92L331.34,201.26L334.15,201.6L336.97,201.92L339.79,202.23L342.6,202.53L345.42,202.82L348.24,203.09L351.06,203.34L353.87,203.57L356.69,203.79L359.51,203.99L362.32,204.17L365.14,204.33L367.96,204.48L370.77,204.61L373.59,204.73L376.41,204.83L379.22,204.92L382.04,205L384.86,205.06L387.67,205.12L390.49,205.17L393.31,205.21L396.12,205.25L398.94,205.28L401.76,205.3L404.58,205.32L407.39,205.34L410.21,205.36L413.03,205.37L415.84,205.38L418.66,205.38L421.48,205.39L424.29,205.4L427.11,205.4L429.93,205.4L432.74,205.4L435.56,205.41L438.38,205.41L441.2,205.41L444.01,205.41L446.83,205.41L449.65,205.41L452.46,205.41L455.28,205.41L458.1,205.41L460.91,205.41L463.73,205.41L466.55,205.41L469.36,205.41L472.18,205.41L475,205.41L477.81,205.41L480.63,205.41L483.45,205.41L486.27,205.41L489.08,205.41L491.9,205.41L494.72,205.41L497.53,205.41L500.35,205.41L503.17,205.41L505.98,205.41L508.8,205.41M58.1,290.09L60.92,290.09L63.73,290.09L66.55,290.09L69.37,290.09L72.18,290.09L75,290.09L77.82,290.09L80.63,290.09L83.45,290.09L86.27,290.09L89.09,290.09L91.9,290.09L94.72,290.09L97.54,290.09L100.35,290.09L103.17,290.09L105.99,290.09L108.8,290.09L111.62,290.09L114.44,290.09L117.25,290.09L120.07,290.09L122.89,290.09L125.71,290.09L128.52,290.09L131.34,290.09L134.16,290.1L136.97,290.1L139.79,290.1L142.61,290.1L145.42,290.11L148.24,290.12L151.06,290.12L153.87,290.13L156.69,290.14L159.51,290.16L162.32,290.18L165.14,290.2L167.96,290.22L170.78,290.25L173.59,290.29L176.41,290.33L179.23,290.38L182.04,290.44L184.86,290.5L187.68,290.58L190.49,290.67L193.31,290.77L196.13,290.89L198.94,291.02L201.76,291.17L204.58,291.33L207.39,291.51L210.21,291.71L213.03,291.93L215.84,292.16L218.66,292.41L221.48,292.68L224.3,292.97L227.11,293.27L229.93,293.58L232.75,293.9L235.56,294.24L238.38,294.58L241.2,294.92L244.01,295.26L246.83,295.6L249.65,295.94L252.46,296.26L255.28,296.57L258.1,296.87L260.92,297.14L263.73,297.39L266.55,297.61L269.37,297.81L272.18,297.97L275,298.1L277.82,298.19L280.63,298.25L283.45,298.26L286.27,298.25L289.08,298.19L291.9,298.1L294.72,297.97L297.53,297.81L300.35,297.61L303.17,297.39L305.99,297.14L308.8,296.87L311.62,296.57L314.44,296.26L317.25,295.94L320.07,295.6L322.89,295.26L325.7,294.92L328.52,294.58L331.34,294.24L334.15,293.9L336.97,293.58L339.79,293.27L342.6,292.97L345.42,292.68L348.24,292.41L351.06,292.16L353.87,291.93L356.69,291.71L359.51,291.51L362.32,291.33L365.14,291.17L367.96,291.02L370.77,290.89L373.59,290.77L376.41,290.67L379.22,290.58L382.04,290.5L384.86,290.44L387.67,290.38L390.49,290.33L393.31,290.29L396.12,290.25L398.94,290.22L401.76,290.2L404.58,290.18L407.39,290.16L410.21,290.14L413.03,290.13L415.84,290.12L418.66,290.12L421.48,290.11L424.29,290.1L427.11,290.1L429.93,290.1L432.74,290.1L435.56,290.09L438.38,290.09L441.2,290.09L444.01,290.09L446.83,290.09L449.65,290.09L452.46,290.09L455.28,290.09L458.1,290.09L460.91,290.09L463.73,290.09L466.55,290.09L469.36,290.09L472.18,290.09L475,290.09L477.81,290.09L480.63,290.09L483.45,290.09L486.27,290.09L489.08,290.09L491.9,290.09L494.72,290.09L497.53,290.09L500.35,290.09L503.17,290.09L505.98,290.09L508.8,290.09M58.1,198.8L60.92,198.8L63.73,198.8L66.55,198.8L69.37,198.8L72.18,198.8L75,198.8L77.82,198.8L80.63,198.8L83.45,198.8L86.27,198.8L89.09,198.8L91.9,198.8L94.72,198.8L97.54,198.8L100.35,198.8L103.17,198.8L105.99,198.8L108.8,198.8L111.62,198.8L114.44,198.8L117.25,198.8L120.07,198.8L122.89,198.8L125.71,198.8L128.52,198.8L131.34,198.8L134.16,198.79L136.97,198.79L139.79,198.79L142.61,198.79L145.42,198.78L148.24,198.78L151.06,198.77L153.87,198.76L156.69,198.75L159.51,198.74L162.32,198.72L165.14,198.71L167.96,198.68L170.78,198.66L173.59,198.63L176.41,198.59L179.23,198.55L182.04,198.5L184.86,198.44L187.68,198.37L190.49,198.29L193.31,198.2L196.13,198.1L198.94,197.99L201.76,197.86L204.58,197.72L207.39,197.56L210.21,197.39L213.03,197.2L215.84,197L218.66,196.78L221.48,196.54L224.3,196.29L227.11,196.03L229.93,195.75L232.75,195.46L235.56,195.17L238.38,194.87L241.2,194.56L244.01,194.26L246.83,193.96L249.65,193.66L252.46,193.37L255.28,193.09L258.1,192.83L260.92,192.59L263.73,192.36L266.55,192.16L269.37,191.99L272.18,191.84L275,191.73L277.82,191.64L280.63,191.59L283.45,191.58L286.27,191.59L289.08,191.64L291.9,191.73L294.72,191.84L297.53,191.99L300.35,192.16L303.17,192.36L305.99,192.59L308.8,192.83L311.62,193.09L314.44,193.37L317.25,193.66L320.07,193.96L322.89,194.26L325.7,194.56L328.52,194.87L331.34,195.17L334.15,195.46L336.97,195.75L339.79,196.03L342.6,196.29L345.42,196.54L348.24,196.78L351.06,197L353.87,197.2L356.69,197.39L359.51,197.56L362.32,197.72L365.14,197.86L367.96,197.99L370.77,198.1L373.59,198.2L376.41,198.29L379.22,198.37L382.04,198.44L384.86,198.5L387.67,198.55L390.49,198.59L393.31,198.63L396.12,198.66L398.94,198.68L401.76,198.71L404.58,198.72L407.39,198.74L410.21,198.75L413.03,198.76L415.84,198.77L418.66,198.78L421.48,198.78L424.29,198.79L427.11,198.79L429.93,198.79L432.74,198.79L435.56,198.8L438.38,198.8L441.2,198.8L444.01,198.8L446.83,198.8L449.65,198.8L452.46,198.8L455.28,198.8L458.1,198.8L460.91,198.8L463.73,198.8L466.55,198.8L469.36,198.8L472.18,198.8L475,198.8L477.81,198.8L480.63,198.8L483.45,198.8L486.27,198.8L489.08,198.8L491.9,198.8L494.72,198.8L497.53,198.8L500.35,198.8L503.17,198.8L505.98,198.8L508.8,198.8M58.1,296.7L60.92,296.7L63.73,296.7L66.55,296.7L69.37,296.7L72.18,296.7L75,296.7L77.82,296.7L80.63,296.7L83.45,296.7L86.27,296.7L89.09,296.7L91.9,296.7L94.72,296.7L97.54,296.7L100.35,296.7L103.17,296.7L105.99,296.7L108.8,296.7L111.62,296.7L114.44,296.7L117.25,296.7L120.07,296.7L122.89,296.7L125.71,296.7L128.52,296.7L131.34,296.7L134.16,296.71L136.97,296.71L139.79,296.71L142.61,296.71L145.42,296.72L148.24,296.72L151.06,296.73L153.87,296.74L156.69,296.75L159.51,296.76L162.32,296.78L165.14,296.79L167.96,296.82L170.78,296.84L173.59,296.87L176.41,296.91L179.23,296.95L182.04,297L184.86,297.06L187.68,297.13L190.49,297.21L193.31,297.3L196.13,297.4L198.94,297.51L201.76,297.64L204.58,297.78L207.39,297.94L210.21,298.11L213.03,298.3L215.84,298.5L218.66,298.72L221.48,298.96L224.3,299.21L227.11,299.47L229.93,299.75L232.75,300.04L235.56,300.33L238.38,300.63L241.2,300.94L244.01,301.24L246.83,301.54L249.65,301.84L252.46,302.13L255.28,302.41L258.1,302.67L260.92,302.91L263.73,303.14L266.55,303.34L269.37,303.51L272.18,303.66L275,303.77L277.82,303.86L280.63,303.91L283.45,303.92L286.27,303.91L289.08,303.86L291.9,303.77L294.72,303.66L297.53,303.51L300.35,303.34L303.17,303.14L305.99,302.91L308.8,302.67L311.62,302.41L314.44,302.13L317.25,301.84L320.07,301.54L322.89,301.24L325.7,300.94L328.52,300.63L331.34,300.33L334.15,300.04L336.97,299.75L339.79,299.47L342.6,299.21L345.42,298.96L348.24,298.72L351.06,298.5L353.87,298.3L356.69,298.11L359.51,297.94L362.32,297.78L365.14,297.64L367.96,297.51L370.77,297.4L373.59,297.3L376.41,297.21L379.22,297.13L382.04,297.06L384.86,297L387.67,296.95L390.49,296.91L393.31,296.87L396.12,296.84L398.94,296.82L401.76,296.79L404.58,296.78L407.39,296.76L410.21,296.75L413.03,296.74L415.84,296.73L418.66,296.72L421.48,296.72L424.29,296.71L427.11,296.71L429.93,296.71L432.74,296.71L435.56,296.7L438.38,296.7L441.2,296.7L444.01,296.7L446.83,296.7L449.65,296.7L452.46,296.7L455.28,296.7L458.1,296.7L460.91,296.7L463.73,296.7L466.55,296.7L469.36,296.7L472.18,296.7L475,296.7L477.81,296.7L480.63,296.7L483.45,296.7L486.27,296.7L489.08,296.7L491.9,296.7L494.72,296.7L497.53,296.7L500.35,296.7L503.17,296.7L505.98,296.7L508.8,296.7M58.1,189.2L60.92,189.2L63.73,189.2L66.55,189.2L69.37,189.2L72.18,189.2L75,189.2L77.82,189.2L80.63,189.2L83.45,189.2L86.27,189.2L89.09,189.2L91.9,189.2L94.72,189.2L97.54,189.2L100.35,189.2L103.17,189.2L105.99,189.2L108.8,189.2L111.62,189.2L114.44,189.2L117.25,189.2L120.07,189.2L122.89,189.2L125.71,189.2L128.52,189.2L131.34,189.2L134.16,189.2L136.97,189.19L139.79,189.19L142.61,189.19L145.42,189.18L148.24,189.18L151.06,189.17L153.87,189.17L156.69,189.16L159.51,189.15L162.32,189.14L165.14,189.12L167.96,189.1L170.78,189.08L173.59,189.06L176.41,189.03L179.23,188.99L182.04,188.95L184.86,188.9L187.68,188.84L190.49,188.78L193.31,188.7L196.13,188.62L198.94,188.52L201.76,188.41L204.58,188.29L207.39,188.16L210.21,188.02L213.03,187.86L215.84,187.68L218.66,187.5L221.48,187.3L224.3,187.09L227.11,186.86L229.93,186.63L232.75,186.38L235.56,186.13L238.38,185.88L241.2,185.62L244.01,185.35L246.83,185.1L249.65,184.84L252.46,184.59L255.28,184.35L258.1,184.13L260.92,183.91L263.73,183.72L266.55,183.55L269.37,183.4L272.18,183.27L275,183.17L277.82,183.1L280.63,183.06L283.45,183.04L286.27,183.06L289.08,183.1L291.9,183.17L294.72,183.27L297.53,183.4L300.35,183.55L303.17,183.72L305.99,183.91L308.8,184.13L311.62,184.35L314.44,184.59L317.25,184.84L320.07,185.1L322.89,185.35L325.7,185.62L328.52,185.88L331.34,186.13L334.15,186.38L336.97,186.63L339.79,186.86L342.6,187.09L345.42,187.3L348.24,187.5L351.06,187.68L353.87,187.86L356.69,188.02L359.51,188.16L362.32,188.29L365.14,188.41L367.96,188.52L370.77,188.62L373.59,188.7L376.41,188.78L379.22,188.84L382.04,188.9L384.86,188.95L387.67,188.99L390.49,189.03L393.31,189.06L396.12,189.08L398.94,189.1L401.76,189.12L404.58,189.14L407.39,189.15L410.21,189.16L413.03,189.17L415.84,189.17L418.66,189.18L421.48,189.18L424.29,189.19L427.11,189.19L429.93,189.19L432.74,189.2L435.56,189.2L438.38,189.2L441.2,189.2L444.01,189.2L446.83,189.2L449.65,189.2L452.46,189.2L455.28,189.2L458.1,189.2L460.91,189.2L463.73,189.2L466.55,189.2L469.36,189.2L472.18,189.2L475,189.2L477.81,189.2L480.63,189.2L483.45,189.2L486.27,189.2L489.08,189.2L491.9,189.2L494.72,189.2L497.53,189.2L500.35,189.2L503.17,189.2L505.98,189.2L508.8,189.2M58.1,306.3L60.92,306.3L63.73,306.3L66.55,306.3L69.37,306.3L72.18,306.3L75,306.3L77.82,306.3L80.63,306.3L83.45,306.3L86.27,306.3L89.09,306.3L91.9,306.3L94.72,306.3L97.54,306.3L100.35,306.3L103.17,306.3L105.99,306.3L108.8,306.3L111.62,306.3L114.44,306.3L117.25,306.3L120.07,306.3L122.89,306.3L125.71,306.3L128.52,306.3L131.34,306.3L134.16,306.3L136.97,306.31L139.79,306.31L142.61,306.31L145.42,306.32L148.24,306.32L151.06,306.33L153.87,306.33L156.69,306.34L159.51,306.35L162.32,306.36L165.14,306.38L167.96,306.4L170.78,306.42L173.59,306.44L176.41,306.47L179.23,306.51L182.04,306.55L184.86,306.6L187.68,306.66L190.49,306.72L193.31,306.8L196.13,306.88L198.94,306.98L201.76,307.09L204.58,307.21L207.39,307.34L210.21,307.48L213.03,307.64L215.84,307.82L218.66,308L221.48,308.2L224.3,308.41L227.11,308.64L229.93,308.87L232.75,309.12L235.56,309.37L238.38,309.62L241.2,309.88L244.01,310.15L246.83,310.4L249.65,310.66L252.46,310.91L255.28,311.15L258.1,311.37L260.92,311.59L263.73,311.78L266.55,311.95L269.37,312.1L272.18,312.23L275,312.33L277.82,312.4L280.63,312.44L283.45,312.46L286.27,312.44L289.08,312.4L291.9,312.33L294.72,312.23L297.53,312.1L300.35,311.95L303.17,311.78L305.99,311.59L308.8,311.37L311.62,311.15L314.44,310.91L317.25,310.66L320.07,310.4L322.89,310.15L325.7,309.88L328.52,309.62L331.34,309.37L334.15,309.12L336.97,308.87L339.79,308.64L342.6,308.41L345.42,308.2L348.24,308L351.06,307.82L353.87,307.64L356.69,307.48L359.51,307.34L362.32,307.21L365.14,307.09L367.96,306.98L370.77,306.88L373.59,306.8L376.41,306.72L379.22,306.66L382.04,306.6L384.86,306.55L387.67,306.51L390.49,306.47L393.31,306.44L396.12,306.42L398.94,306.4L401.76,306.38L404.58,306.36L407.39,306.35L410.21,306.34L413.03,306.33L415.84,306.33L418.66,306.32L421.48,306.32L424.29,306.31L427.11,306.31L429.93,306.31L432.74,306.3L435.56,306.3L438.38,306.3L441.2,306.3L444.01,306.3L446.83,306.3L449.65,306.3L452.46,306.3L455.28,306.3L458.1,306.3L460.91,306.3L463.73,306.3L466.55,306.3L469.36,306.3L472.18,306.3L475,306.3L477.81,306.3L480.63,306.3L483.45,306.3L486.27,306.3L489.08,306.3L491.9,306.3L494.72,306.3L497.53,306.3L500.35,306.3L503.17,306.3L505.98,306.3L508.8,306.3M58.1,247.74L60.92,247.74L63.73,247.74L66.55,247.73L69.37,247.73L72.18,247.73L75,247.72L77.82,247.71L80.63,247.71L83.45,247.7L86.27,247.69L89.09,247.68L91.9,247.66L94.72,247.65L97.54,247.63L100.35,247.61L103.17,247.59L105.99,247.56L108.8,247.52L111.62,247.49L114.44,247.44L117.25,247.39L120.07,247.34L122.89,247.28L125.71,247.2L128.52,247.12L131.34,247.03L134.16,246.93L136.97,246.81L139.79,246.68L142.61,246.54L145.42,246.38L148.24,246.2L151.06,246.01L153.87,245.79L156.69,245.56L159.51,245.3L162.32,245.02L165.14,244.71L167.96,244.38L170.78,244.02L173.59,243.63L176.41,243.22L179.23,242.77L182.04,242.3L184.86,241.79L187.68,241.25L190.49,240.69L193.31,240.09L196.13,239.46L198.94,238.8L201.76,238.12L204.58,237.41L207.39,236.67L210.21,235.91L213.03,235.13L215.84,234.34L218.66,233.53L221.48,232.7L224.3,231.87L227.11,231.04L229.93,230.2L232.75,229.37L235.56,228.55L238.38,227.74L241.2,226.95L244.01,226.18L246.83,225.44L249.65,224.73L252.46,224.06L255.28,223.43L258.1,222.85L260.92,222.31L263.73,221.83L266.55,221.41L269.37,221.04L272.18,220.74L275,220.5L277.82,220.33L280.63,220.23L283.45,220.2L286.27,220.23L289.08,220.33L291.9,220.5L294.72,220.74L297.53,221.04L300.35,221.41L303.17,221.83L305.99,222.31L308.8,222.85L311.62,223.43L314.44,224.06L317.25,224.73L320.07,225.44L322.89,226.18L325.7,226.95L328.52,227.74L331.34,228.55L334.15,229.37L336.97,230.2L339.79,231.04L342.6,231.87L345.42,232.7L348.24,233.53L351.06,234.34L353.87,235.13L356.69,235.91L359.51,236.67L362.32,237.41L365.14,238.12L367.96,238.8L370.77,239.46L373.59,240.09L376.41,240.69L379.22,241.25L382.04,241.79L384.86,242.3L387.67,242.77L390.49,243.22L393.31,243.63L396.12,244.02L398.94,244.38L401.76,244.71L404.58,245.02L407.39,245.3L410.21,245.56L413.03,245.79L415.84,246.01L418.66,246.2L421.48,246.38L424.29,246.54L427.11,246.68L429.93,246.81L432.74,246.93L435.56,247.03L438.38,247.12L441.2,247.2L444.01,247.28L446.83,247.34L449.65,247.39L452.46,247.44L455.28,247.49L458.1,247.52L460.91,247.56L463.73,247.59L466.55,247.61L469.36,247.63L472.18,247.65L475,247.66L477.81,247.68L480.63,247.69L483.45,247.7L486.27,247.71L489.08,247.71L491.9,247.72L494.72,247.73L497.53,247.73L500.35,247.73L503.17,247.74L505.98,247.74L508.8,247.74M58.1,247.76L60.92,247.76L63.73,247.76L66.55,247.77L69.37,247.77L72.18,247.77L75,247.78L77.82,247.79L80.63,247.79L83.45,247.8L86.27,247.81L89.09,247.82L91.9,247.84L94.72,247.85L97.54,247.87L100.35,247.89L103.17,247.91L105.99,247.94L108.8,247.98L111.62,248.01L114.44,248.06L117.25,248.11L120.07,248.16L122.89,248.22L125.71,248.3L128.52,248.38L131.34,248.47L134.16,248.57L136.97,248.69L139.79,248.82L142.61,248.96L145.42,249.12L148.24,249.3L151.06,249.49L153.87,249.71L156.69,249.94L159.51,250.2L162.32,250.48L165.14,250.79L167.96,251.12L170.78,251.48L173.59,251.87L176.41,252.28L179.23,252.73L182.04,253.2L184.86,253.71L187.68,254.25L190.49,254.81L193.31,255.41L196.13,256.04L198.94,256.7L201.76,257.38L204.58,258.09L207.39,258.83L210.21,259.59L213.03,260.37L215.84,261.16L218.66,261.97L221.48,262.8L224.3,263.63L227.11,264.46L229.93,265.3L232.75,266.13L235.56,266.95L238.38,267.76L241.2,268.55L244.01,269.32L246.83,270.06L249.65,270.77L252.46,271.44L255.28,272.07L258.1,272.65L260.92,273.19L263.73,273.67L266.55,274.09L269.37,274.46L272.18,274.76L275,275L277.82,275.17L280.63,275.27L283.45,275.3L286.27,275.27L289.08,275.17L291.9,275L294.72,274.76L297.53,274.46L300.35,274.09L303.17,273.67L305.99,273.19L308.8,272.65L311.62,272.07L314.44,271.44L317.25,270.77L320.07,270.06L322.89,269.32L325.7,268.55L328.52,267.76L331.34,266.95L334.15,266.13L336.97,265.3L339.79,264.46L342.6,263.63L345.42,262.8L348.24,261.97L351.06,261.16L353.87,260.37L356.69,259.59L359.51,258.83L362.32,258.09L365.14,257.38L367.96,256.7L370.77,256.04L373.59,255.41L376.41,254.81L379.22,254.25L382.04,253.71L384.86,253.2L387.67,252.73L390.49,252.28L393.31,251.87L396.12,251.48L398.94,251.12L401.76,250.79L404.58,250.48L407.39,250.2L410.21,249.94L413.03,249.71L415.84,249.49L418.66,249.3L421.48,249.12L424.29,248.96L427.11,248.82L429.93,248.69L432.74,248.57L435.56,248.47L438.38,248.38L441.2,248.3L444.01,248.22L446.83,248.16L449.65,248.11L452.46,248.06L455.28,248.01L458.1,247.98L460.91,247.94L463.73,247.91L466.55,247.89L469.36,247.87L472.18,247.85L475,247.84L477.81,247.82L480.63,247.81L483.45,247.8L486.27,247.79L489.08,247.79L491.9,247.78L494.72,247.77L497.53,247.77L500.35,247.77L503.17,247.76L505.98,247.76L508.8,247.76M356.71,247.75L356.61,246.94L356.31,246.13L355.81,245.32L355.11,244.49L354.22,243.65L353.13,242.8L351.85,241.92L350.38,241.03L348.73,240.11L346.9,239.17L344.89,238.2L342.72,237.21L340.39,236.2L337.89,235.16L335.25,234.11L332.47,233.05L329.56,231.98L326.51,230.92L323.35,229.87L320.08,228.84L316.71,227.85L313.25,226.92L309.71,226.05L306.09,225.25L302.41,224.56L298.68,223.96L294.91,223.49L291.11,223.14L287.28,222.93L283.45,222.86L279.62,222.93L275.79,223.14L271.99,223.49L268.22,223.96L264.49,224.56L260.81,225.25L257.19,226.05L253.65,226.92L250.19,227.85L246.82,228.84L243.55,229.87L240.39,230.92L237.34,231.98L234.43,233.05L231.65,234.11L229.01,235.16L226.51,236.2L224.18,237.21L222.01,238.2L220,239.17L218.17,240.11L216.52,241.03L215.05,241.92L213.77,242.8L212.68,243.65L211.79,244.49L211.09,245.32L210.59,246.13L210.29,246.94L210.19,247.75L210.29,248.56L210.59,249.37L211.09,250.18L211.79,251.01L212.68,251.85L213.77,252.7L215.05,253.58L216.52,254.47L218.17,255.39L220,256.33L222.01,257.3L224.18,258.29L226.51,259.3L229.01,260.34L231.65,261.39L234.43,262.45L237.34,263.52L240.39,264.58L243.55,265.63L246.82,266.66L250.19,267.65L253.65,268.58L257.19,269.45L260.81,270.25L264.49,270.94L268.22,271.54L271.99,272.01L275.79,272.36L279.62,272.57L283.45,272.64L287.28,272.57L291.11,272.36L294.91,272.01L298.68,271.54L302.41,270.94L306.09,270.25L309.71,269.45L313.25,268.58L316.71,267.65L320.08,266.66L323.35,265.63L326.51,264.58L329.56,263.52L332.47,262.45L335.25,261.39L337.89,260.34L340.39,259.3L342.72,258.29L344.89,257.3L346.9,256.33L348.73,255.39L350.38,254.47L351.85,253.58L353.13,252.7L354.22,251.85L355.11,251.01L355.81,250.18L356.31,249.37L356.61,248.56L356.71,247.75ZM340.64,247.75L340.56,246.87L340.32,246L339.93,245.12L339.39,244.24L338.69,243.35L337.84,242.46L336.84,241.56L335.69,240.65L334.4,239.74L332.98,238.83L331.41,237.91L329.72,236.99L327.89,236.06L325.95,235.15L323.89,234.24L321.72,233.34L319.44,232.46L317.06,231.6L314.6,230.77L312.04,229.98L309.41,229.23L306.71,228.53L303.94,227.9L301.12,227.33L298.25,226.83L295.34,226.41L292.4,226.08L289.43,225.85L286.44,225.7L283.45,225.65L280.46,225.7L277.47,225.85L274.5,226.08L271.56,226.41L268.65,226.83L265.78,227.33L262.96,227.9L260.19,228.53L257.49,229.23L254.86,229.98L252.3,230.77L249.84,231.6L247.46,232.46L245.18,233.34L243.01,234.24L240.95,235.15L239.01,236.06L237.18,236.99L235.49,237.91L233.92,238.83L232.5,239.74L231.21,240.65L230.06,241.56L229.06,242.46L228.21,243.35L227.51,244.24L226.97,245.12L226.58,246L226.34,246.87L226.26,247.75L226.34,248.63L226.58,249.5L226.97,250.38L227.51,251.26L228.21,252.15L229.06,253.04L230.06,253.94L231.21,254.85L232.5,255.76L233.92,256.67L235.49,257.59L237.18,258.51L239.01,259.44L240.95,260.35L243.01,261.26L245.18,262.16L247.46,263.04L249.84,263.9L252.3,264.73L254.86,265.52L257.49,266.27L260.19,266.97L262.96,267.6L265.78,268.17L268.65,268.67L271.56,269.09L274.5,269.42L277.47,269.65L280.46,269.8L283.45,269.85L286.44,269.8L289.43,269.65L292.4,269.42L295.34,269.09L298.25,268.67L301.12,268.17L303.94,267.6L306.71,266.97L309.41,266.27L312.04,265.52L314.6,264.73L317.06,263.9L319.44,263.04L321.72,262.16L323.89,261.26L325.95,260.35L327.89,259.44L329.72,258.51L331.41,257.59L332.98,256.67L334.4,255.76L335.69,254.85L336.84,253.94L337.84,253.04L338.69,252.15L339.39,251.26L339.93,250.38L340.32,249.5L340.56,248.63L340.64,247.75ZM329.43,247.75L329.37,246.91L329.18,246.06L328.86,245.22L328.42,244.37L327.86,243.53L327.18,242.69L326.37,241.85L325.45,241.01L324.42,240.17L323.27,239.34L322.01,238.52L320.65,237.7L319.18,236.9L317.62,236.11L315.96,235.33L314.22,234.58L312.39,233.85L310.48,233.15L308.49,232.48L306.44,231.85L304.32,231.26L302.15,230.72L299.93,230.23L297.66,229.79L295.35,229.42L293.01,229.1L290.64,228.86L288.26,228.68L285.86,228.57L283.45,228.54L281.04,228.57L278.64,228.68L276.26,228.86L273.89,229.1L271.55,229.42L269.24,229.79L266.97,230.23L264.75,230.72L262.58,231.26L260.46,231.85L258.41,232.48L256.42,233.15L254.51,233.85L252.68,234.58L250.94,235.33L249.28,236.11L247.72,236.9L246.25,237.7L244.89,238.52L243.63,239.34L242.48,240.17L241.45,241.01L240.53,241.85L239.72,242.69L239.04,243.53L238.48,244.37L238.04,245.22L237.72,246.06L237.53,246.91L237.47,247.75L237.53,248.59L237.72,249.44L238.04,250.28L238.48,251.13L239.04,251.97L239.72,252.81L240.53,253.65L241.45,254.49L242.48,255.33L243.63,256.16L244.89,256.98L246.25,257.8L247.72,258.6L249.28,259.39L250.94,260.17L252.68,260.92L254.51,261.65L256.42,262.35L258.41,263.02L260.46,263.65L262.58,264.24L264.75,264.78L266.97,265.27L269.24,265.71L271.55,266.08L273.89,266.4L276.26,266.64L278.64,266.82L281.04,266.93L283.45,266.96L285.86,266.93L288.26,266.82L290.64,266.64L293.01,266.4L295.35,266.08L297.66,265.71L299.93,265.27L302.15,264.78L304.32,264.24L306.44,263.65L308.49,263.02L310.48,262.35L312.39,261.65L314.22,260.92L315.96,260.17L317.62,259.39L319.18,258.6L320.65,257.8L322.01,256.98L323.27,256.16L324.42,255.33L325.45,254.49L326.37,253.65L327.18,252.81L327.86,251.97L328.42,251.13L328.86,250.28L329.18,249.44L329.37,248.59L329.43,247.75ZM319.58,247.75L319.53,247L319.39,246.24L319.14,245.49L318.79,244.75L318.35,244L317.82,243.26L317.18,242.53L316.46,241.8L315.65,241.08L314.74,240.37L313.75,239.67L312.68,238.98L311.53,238.31L310.3,237.66L309,237.03L307.63,236.42L306.19,235.84L304.69,235.28L303.13,234.76L301.52,234.26L299.85,233.81L298.15,233.39L296.4,233.02L294.62,232.69L292.8,232.41L290.96,232.17L289.1,231.99L287.23,231.85L285.34,231.77L283.45,231.75L281.56,231.77L279.67,231.85L277.8,231.99L275.94,232.17L274.1,232.41L272.28,232.69L270.5,233.02L268.75,233.39L267.05,233.81L265.38,234.26L263.77,234.76L262.21,235.28L260.71,235.84L259.27,236.42L257.9,237.03L256.6,237.66L255.37,238.31L254.22,238.98L253.15,239.67L252.16,240.37L251.25,241.08L250.44,241.8L249.72,242.53L249.08,243.26L248.55,244L248.11,244.75L247.76,245.49L247.51,246.24L247.37,247L247.32,247.75L247.37,248.5L247.51,249.26L247.76,250.01L248.11,250.75L248.55,251.5L249.08,252.24L249.72,252.97L250.44,253.7L251.25,254.42L252.16,255.13L253.15,255.83L254.22,256.52L255.37,257.19L256.6,257.84L257.9,258.47L259.27,259.08L260.71,259.66L262.21,260.22L263.77,260.74L265.38,261.24L267.05,261.69L268.75,262.11L270.5,262.48L272.28,262.81L274.1,263.09L275.94,263.33L277.8,263.51L279.67,263.65L281.56,263.73L283.45,263.75L285.34,263.73L287.23,263.65L289.1,263.51L290.96,263.33L292.8,263.09L294.62,262.81L296.4,262.48L298.15,262.11L299.85,261.69L301.52,261.24L303.13,260.74L304.69,260.22L306.19,259.66L307.63,259.08L309,258.47L310.3,257.84L311.53,257.19L312.68,256.52L313.75,255.83L314.74,255.13L315.65,254.42L316.46,253.7L317.18,252.97L317.82,252.24L318.35,251.5L318.79,250.75L319.14,250.01L319.39,249.26L319.53,248.5L319.58,247.75ZM309.99,247.75L309.95,247.14L309.84,246.53L309.66,245.93L309.41,245.33L309.09,244.73L308.69,244.14L308.23,243.56L307.7,242.98L307.1,242.41L306.43,241.86L305.71,241.32L304.92,240.79L304.08,240.28L303.17,239.78L302.22,239.3L301.21,238.85L300.15,238.41L299.05,238L297.9,237.61L296.72,237.26L295.5,236.93L294.24,236.63L292.96,236.36L291.65,236.12L290.32,235.92L288.97,235.76L287.6,235.63L286.22,235.53L284.84,235.48L283.45,235.46L282.06,235.48L280.68,235.53L279.3,235.63L277.93,235.76L276.58,235.92L275.25,236.12L273.94,236.36L272.66,236.63L271.4,236.93L270.18,237.26L269,237.61L267.85,238L266.75,238.41L265.69,238.85L264.68,239.3L263.73,239.78L262.82,240.28L261.98,240.79L261.19,241.32L260.47,241.86L259.8,242.41L259.2,242.98L258.67,243.56L258.21,244.14L257.81,244.73L257.49,245.33L257.24,245.93L257.06,246.53L256.95,247.14L256.91,247.75L256.95,248.36L257.06,248.97L257.24,249.57L257.49,250.17L257.81,250.77L258.21,251.36L258.67,251.94L259.2,252.52L259.8,253.09L260.47,253.64L261.19,254.18L261.98,254.71L262.82,255.22L263.73,255.72L264.68,256.2L265.69,256.65L266.75,257.09L267.85,257.5L269,257.89L270.18,258.24L271.4,258.57L272.66,258.87L273.94,259.14L275.25,259.38L276.58,259.58L277.93,259.74L279.3,259.87L280.68,259.97L282.06,260.02L283.45,260.04L284.84,260.02L286.22,259.97L287.6,259.87L288.97,259.74L290.32,259.58L291.65,259.38L292.96,259.14L294.24,258.87L295.5,258.57L296.72,258.24L297.9,257.89L299.05,257.5L300.15,257.09L301.21,256.65L302.22,256.2L303.17,255.72L304.08,255.22L304.92,254.71L305.71,254.18L306.43,253.64L307.1,253.09L307.7,252.52L308.23,251.94L308.69,251.36L309.09,250.77L309.41,250.17L309.66,249.57L309.84,248.97L309.95,248.36L309.99,247.75ZM298.91,247.75L298.89,247.37L298.83,246.99L298.72,246.61L298.57,246.23L298.38,245.86L298.15,245.5L297.88,245.13L297.57,244.78L297.23,244.43L296.84,244.09L296.42,243.76L295.96,243.44L295.47,243.13L294.94,242.84L294.38,242.55L293.8,242.28L293.18,242.03L292.54,241.78L291.87,241.56L291.18,241.35L290.47,241.16L289.74,240.99L288.99,240.84L288.23,240.7L287.45,240.59L286.66,240.5L285.87,240.42L285.07,240.37L284.26,240.34L283.45,240.33L282.64,240.34L281.83,240.37L281.03,240.42L280.24,240.5L279.45,240.59L278.67,240.7L277.91,240.84L277.16,240.99L276.43,241.16L275.72,241.35L275.03,241.56L274.36,241.78L273.72,242.03L273.1,242.28L272.52,242.55L271.96,242.84L271.43,243.13L270.94,243.44L270.48,243.76L270.06,244.09L269.67,244.43L269.33,244.78L269.02,245.13L268.75,245.5L268.52,245.86L268.33,246.23L268.18,246.61L268.07,246.99L268.01,247.37L267.99,247.75L268.01,248.13L268.07,248.51L268.18,248.89L268.33,249.27L268.52,249.64L268.75,250L269.02,250.37L269.33,250.72L269.67,251.07L270.06,251.41L270.48,251.74L270.94,252.06L271.43,252.37L271.96,252.66L272.52,252.95L273.1,253.22L273.72,253.47L274.36,253.72L275.03,253.94L275.72,254.15L276.43,254.34L277.16,254.51L277.91,254.66L278.67,254.8L279.45,254.91L280.24,255L281.03,255.08L281.83,255.13L282.64,255.16L283.45,255.17L284.26,255.16L285.07,255.13L285.87,255.08L286.66,255L287.45,254.91L288.23,254.8L288.99,254.66L289.74,254.51L290.47,254.34L291.18,254.15L291.87,253.94L292.54,253.72L293.18,253.47L293.8,253.22L294.38,252.95L294.94,252.66L295.47,252.37L295.96,252.06L296.42,251.74L296.84,251.41L297.23,251.07L297.57,250.72L297.88,250.37L298.15,250L298.38,249.64L298.57,249.27L298.72,248.89L298.83,248.51L298.89,248.13L298.91,247.75Z"/>
<path d="M58.1,165.6L60.92,165.6L63.73,165.6L66.55,165.6L69.37,165.6L72.18,165.6L75,165.6L77.82,165.6L80.63,165.6L83.45,165.6L86.27,165.6L89.09,165.6L91.9,165.6L94.72,165.6L97.54,165.6L100.35,165.6L103.17,165.59L105.99,165.59L108.8,165.59L111.62,165.59L114.44,165.58L117.25,165.57L120.07,165.57L122.89,165.55L125.71,165.54L128.52,165.52L131.34,165.49L134.16,165.46L136.97,165.42L139.79,165.37L142.61,165.3L145.42,165.21L148.24,165.11L151.06,164.98L153.87,164.81L156.69,164.61L159.51,164.37L162.32,164.07L165.14,163.7L167.96,163.27L170.78,162.74L173.59,162.12L176.41,161.38L179.23,160.51L182.04,159.49L184.86,158.31L187.68,156.94L190.49,155.36L193.31,153.55L196.13,151.49L198.94,149.17L201.76,146.56L204.58,143.64L207.39,140.4L210.21,136.83L213.03,132.92L215.84,128.66L218.66,124.06L221.48,119.11L224.3,113.83L227.11,108.25L229.93,102.37L232.75,96.24L235.56,89.9L238.38,83.39L241.2,76.77L244.01,70.09L246.83,63.42L249.65,56.83L252.46,50.39L255.28,44.18L258.1,38.27L260.92,32.75L263.73,27.67L266.55,23.11L269.37,19.14L272.18,15.81L275,13.16L277.82,11.25L280.63,10.08L283.45,9.7L286.27,10.08L289.08,11.25L291.9,13.16L294.72,15.81L297.53,19.14L300.35,23.11L303.17,27.67L305.99,32.75L308.8,38.27L311.62,44.18L314.44,50.39L317.25,56.83L320.07,63.42L322.89,70.09L325.7,76.77L328.52,83.39L331.34,89.9L334.15,96.24L336.97,102.37L339.79,108.25L342.6,113.83L345.42,119.11L348.24,124.06L351.06,128.66L353.87,132.92L356.69,136.83L359.51,140.4L362.32,143.64L365.14,146.56L367.96,149.17L370.77,151.49L373.59,153.55L376.41,155.36L379.22,156.94L382.04,158.31L384.86,159.49L387.67,160.51L390.49,161.38L393.31,162.12L396.12,162.74L398.94,163.27L401.76,163.7L404.58,164.07L407.39,164.37L410.21,164.61L413.03,164.81L415.84,164.98L418.66,165.11L421.48,165.21L424.29,165.3L427.11,165.37L429.93,165.42L432.74,165.46L435.56,165.49L438.38,165.52L441.2,165.54L444.01,165.55L446.83,165.57L449.65,165.57L452.46,165.58L455.28,165.59L458.1,165.59L460.91,165.59L463.73,165.59L466.55,165.6L469.36,165.6L472.18,165.6L475,165.6L477.81,165.6L480.63,165.6L483.45,165.6L486.27,165.6L489.08,165.6L491.9,165.6L494.72,165.6L497.53,165.6L500.35,165.6L503.17,165.6L505.98,165.6L508.8,165.6"/>
<path d="M58.1,1.9H508.8V329.3H58.1ZM58.1,165.6H508.8"/>
<path d="M86.27,1.9v4.5M86.27,161.1v9M86.27,329.3v-4.5M114.44,1.9v4.5M114.44,161.1v9M114.44,329.3v-4.5M142.61,1.9v4.5M142.61,161.1v9M142.61,329.3v-4.5M170.78,1.9v8.3M170.78,157.3v16.6M170.78,329.3v-8.3M198.94,1.9v4.5M198.94,161.1v9M198.94,329.3v-4.5M227.11,1.9v4.5M227.11,161.1v9M227.11,329.3v-4.5M255.28,1.9v4.5M255.28,161.1v9M255.28,329.3v-4.5M283.45,1.9v8.3M283.45,157.3v16.6M283.45,329.3v-8.3M311.62,1.9v4.5M311.62,161.1v9M311.62,329.3v-4.5M339.79,1.9v4.5M339.79,161.1v9M339.79,329.3v-4.5M367.96,1.9v4.5M367.96,161.1v9M367.96,329.3v-4.5M396.12,1.9v8.3M396.12,157.3v16.6M396.12,329.3v-8.3M424.29,1.9v4.5M424.29,161.1v9M424.29,329.3v-4.5M452.46,1.9v4.5M452.46,161.1v9M452.46,329.3v-4.5M480.63,1.9v4.5M480.63,161.1v9M480.63,329.3v-4.5M58.1,150.32h4.5M508.8,150.32h-4.5M58.1,135.03h4.5M508.8,135.03h-4.5M58.1,119.75h4.5M508.8,119.75h-4.5M58.1,104.46h8.3M508.8,104.46h-8.3M58.1,89.18h4.5M508.8,89.18h-4.5M58.1,73.89h4.5M508.8,73.89h-4.5M58.1,58.61h4.5M508.8,58.61h-4.5M58.1,43.32h8.3M508.8,43.32h-8.3M58.1,28.04h4.5M508.8,28.04h-4.5M58.1,12.75h4.5M508.8,12.75h-4.5M58.1,315.96h4.5M508.8,315.96h-4.5M58.1,302.32h8.3M508.8,302.32h-8.3M58.1,288.68h4.5M508.8,288.68h-4.5M58.1,275.03h4.5M508.8,275.03h-4.5M58.1,261.39h4.5M508.8,261.39h-4.5M58.1,247.75h8.3M508.8,247.75h-8.3M58.1,234.11h4.5M508.8,234.11h-4.5M58.1,220.47h4.5M508.8,220.47h-4.5M58.1,206.82h4.5M508.8,206.82h-4.5M58.1,193.18h8.3M508.8,193.18h-8.3M58.1,179.54h4.5M508.8,179.54h-4.5"/>
</g>
<g fill="none" stroke="#111" stroke-width="1.2"><path d="M108,194.9L114.9,198.9L108,202.9M115.6,292.5L108.5,296.7L115.6,300.8"/></g>
<g class="ta"><text class="d" x="26.3" y="48.12" textLength="21" lengthAdjust="spacing">0.4</text>
<text class="d" x="26.3" y="109.26" textLength="21" lengthAdjust="spacing">0.2</text>
<text class="d" x="26.3" y="170.4" textLength="21" lengthAdjust="spacing">0.0</text>
<text class="s" transform="translate(12.2,128.2) rotate(-90)"><tspan x="0" textLength="59.3" lengthAdjust="spacing">Potential</tspan> <tspan x="81.2" y="0.4" class="p">ϕ</tspan></text>
<text class="s" y="88.2"><tspan x="95" textLength="49" lengthAdjust="spacing">Electric</tspan> <tspan x="152.7" textLength="59.4" lengthAdjust="spacing">Potential</tspan></text>
<text class="s" x="113" y="186" textLength="52.3" lengthAdjust="spacing">Passing</text>
<text class="d" x="25.7" y="197.48" textLength="21.8" lengthAdjust="spacing">2.0</text>
<text class="d" x="25.7" y="252.05" textLength="21.8" lengthAdjust="spacing">0.0</text>
<text class="d" x="16.2" y="306.62" textLength="31.3" lengthAdjust="spacing">−2.0</text>
<text class="s" transform="translate(11.6,279.9) rotate(-90)"><tspan x="0" textLength="47.5" lengthAdjust="spacing">velocity</tspan> <tspan x="55.1" class="i" style="font-size:13.5px" textLength="8" lengthAdjust="spacingAndGlyphs">v</tspan></text>
<text class="s" x="284.2" y="252" textLength="55.8" lengthAdjust="spacing">Trapped</text>
<text class="s" y="327"><tspan x="94.6" class="m mi">f</tspan><tspan x="101" y="326.5" class="m mp">(</tspan><tspan x="105.4" y="327" class="m mi" textLength="8.8" lengthAdjust="spacingAndGlyphs">v</tspan><tspan x="115" class="m">,</tspan><tspan x="121" class="m mi" textLength="9.2" lengthAdjust="spacingAndGlyphs">x</tspan><tspan x="130.8" y="326.5" class="m mp">)</tspan> <tspan x="144" y="327" textLength="57.4" lengthAdjust="spacing">contours</tspan> <tspan x="210.6" y="327" textLength="9" lengthAdjust="spacingAndGlyphs">=</tspan> <tspan x="229" y="327" textLength="44" lengthAdjust="spacing">energy</tspan> <tspan x="282" y="327" textLength="58" lengthAdjust="spacing">contours</tspan> <tspan x="350.4" y="327" textLength="9" lengthAdjust="spacingAndGlyphs">=</tspan> <tspan x="367.8" y="327" textLength="38.2" lengthAdjust="spacing">orbits</tspan></text>
<text class="d" x="42.65" y="354.4" textLength="31.5" lengthAdjust="spacing">−4.0</text>
<text class="d" x="155.33" y="354.4" textLength="31.5" lengthAdjust="spacing">−2.0</text>
<text class="d" x="272.55" y="354.4" textLength="21.2" lengthAdjust="spacing">0.0</text>
<text class="d" x="385.22" y="354.4" textLength="21.2" lengthAdjust="spacing">2.0</text>
<text class="d" x="496.7" y="354.4" textLength="21.2" lengthAdjust="spacing">4.0</text>
<text class="s" y="373.2"><tspan x="249.2" textLength="51.8" lengthAdjust="spacing">position</tspan> <tspan x="308.8" class="i" style="font-size:15px" textLength="9.6" lengthAdjust="spacingAndGlyphs">x</tspan></text>
<text class="r" x="274.5" y="394.6" textLength="18.6" lengthAdjust="spacing">(a)</text></g>
<g fill="none" stroke="#2a2a2a" stroke-width="0.8" stroke-linecap="butt">
<path d="M58.1,610.35L60.92,610.35L63.73,610.35L66.55,610.35L69.37,610.35L72.18,610.35L75,610.35L77.82,610.35L80.63,610.35L83.45,610.35L86.27,610.35L89.09,610.35L91.9,610.35L94.72,610.35L97.54,610.35L100.35,610.35L103.17,610.35L105.99,610.35L108.8,610.35L111.62,610.35L114.44,610.35L117.25,610.35L120.07,610.35L122.89,610.35L125.71,610.35L128.52,610.35L131.34,610.35L134.16,610.35L136.97,610.35L139.79,610.35L142.61,610.36L145.42,610.36L148.24,610.36L151.06,610.36L153.87,610.36L156.69,610.37L159.51,610.37L162.32,610.38L165.14,610.38L167.96,610.39L170.78,610.4L173.59,610.41L176.41,610.43L179.23,610.44L182.04,610.46L184.86,610.48L187.68,610.5L190.49,610.53L193.31,610.57L196.13,610.6L198.94,610.64L201.76,610.69L204.58,610.74L207.39,610.8L210.21,610.87L213.03,610.94L215.84,611.01L218.66,611.1L221.48,611.19L224.3,611.28L227.11,611.38L229.93,611.49L232.75,611.6L235.56,611.72L238.38,611.84L241.2,611.96L244.01,612.09L246.83,612.21L249.65,612.33L252.46,612.45L255.28,612.57L258.1,612.68L260.92,612.78L263.73,612.88L266.55,612.96L269.37,613.04L272.18,613.1L275,613.15L277.82,613.19L280.63,613.21L283.45,613.22L286.27,613.21L289.08,613.19L291.9,613.15L294.72,613.1L297.53,613.04L300.35,612.96L303.17,612.88L305.99,612.78L308.8,612.68L311.62,612.57L314.44,612.45L317.25,612.33L320.07,612.21L322.89,612.09L325.7,611.96L328.52,611.84L331.34,611.72L334.15,611.6L336.97,611.49L339.79,611.38L342.6,611.28L345.42,611.19L348.24,611.1L351.06,611.01L353.87,610.94L356.69,610.87L359.51,610.8L362.32,610.74L365.14,610.69L367.96,610.64L370.77,610.6L373.59,610.57L376.41,610.53L379.22,610.5L382.04,610.48L384.86,610.46L387.67,610.44L390.49,610.43L393.31,610.41L396.12,610.4L398.94,610.39L401.76,610.38L404.58,610.38L407.39,610.37L410.21,610.37L413.03,610.36L415.84,610.36L418.66,610.36L421.48,610.36L424.29,610.36L427.11,610.35L429.93,610.35L432.74,610.35L435.56,610.35L438.38,610.35L441.2,610.35L444.01,610.35L446.83,610.35L449.65,610.35L452.46,610.35L455.28,610.35L458.1,610.35L460.91,610.35L463.73,610.35L466.55,610.35L469.36,610.35L472.18,610.35L475,610.35L477.81,610.35L480.63,610.35L483.45,610.35L486.27,610.35L489.08,610.35L491.9,610.35L494.72,610.35L497.53,610.35L500.35,610.35L503.17,610.35L505.98,610.35L508.8,610.35L508.8,617.36L505.98,617.36L503.17,617.36L500.35,617.36L497.53,617.36L494.72,617.36L491.9,617.36L489.08,617.36L486.27,617.36L483.45,617.36L480.63,617.36L477.81,617.36L475,617.36L472.18,617.36L469.36,617.36L466.55,617.36L463.73,617.36L460.91,617.36L458.1,617.36L455.28,617.36L452.46,617.36L449.65,617.36L446.83,617.36L444.01,617.37L441.2,617.37L438.38,617.37L435.56,617.37L432.74,617.37L429.93,617.37L427.11,617.37L424.29,617.37L421.48,617.37L418.66,617.37L415.84,617.38L413.03,617.38L410.21,617.38L407.39,617.39L404.58,617.4L401.76,617.4L398.94,617.41L396.12,617.42L393.31,617.44L390.49,617.45L387.67,617.47L384.86,617.49L382.04,617.52L379.22,617.54L376.41,617.58L373.59,617.62L370.77,617.66L367.96,617.71L365.14,617.76L362.32,617.82L359.51,617.89L356.69,617.97L353.87,618.05L351.06,618.14L348.24,618.24L345.42,618.34L342.6,618.46L339.79,618.58L336.97,618.7L334.15,618.83L331.34,618.97L328.52,619.11L325.7,619.26L322.89,619.4L320.07,619.55L317.25,619.69L314.44,619.84L311.62,619.97L308.8,620.11L305.99,620.23L303.17,620.34L300.35,620.44L297.53,620.53L294.72,620.61L291.9,620.67L289.08,620.71L286.27,620.74L283.45,620.75L280.63,620.74L277.82,620.71L275,620.67L272.18,620.61L269.37,620.53L266.55,620.44L263.73,620.34L260.92,620.23L258.1,620.11L255.28,619.97L252.46,619.84L249.65,619.69L246.83,619.55L244.01,619.4L241.2,619.26L238.38,619.11L235.56,618.97L232.75,618.83L229.93,618.7L227.11,618.58L224.3,618.46L221.48,618.34L218.66,618.24L215.84,618.14L213.03,618.05L210.21,617.97L207.39,617.89L204.58,617.82L201.76,617.76L198.94,617.71L196.13,617.66L193.31,617.62L190.49,617.58L187.68,617.54L184.86,617.52L182.04,617.49L179.23,617.47L176.41,617.45L173.59,617.44L170.78,617.42L167.96,617.41L165.14,617.4L162.32,617.4L159.51,617.39L156.69,617.38L153.87,617.38L151.06,617.38L148.24,617.37L145.42,617.37L142.61,617.37L139.79,617.37L136.97,617.37L134.16,617.37L131.34,617.37L128.52,617.37L125.71,617.37L122.89,617.37L120.07,617.36L117.25,617.36L114.44,617.36L111.62,617.36L108.8,617.36L105.99,617.36L103.17,617.36L100.35,617.36L97.54,617.36L94.72,617.36L91.9,617.36L89.09,617.36L86.27,617.36L83.45,617.36L80.63,617.36L77.82,617.36L75,617.36L72.18,617.36L69.37,617.36L66.55,617.36L63.73,617.36L60.92,617.36L58.1,617.36Z" fill="#fbadaf" stroke="none"/>
<path d="M58.1,638.41L60.92,638.41L63.73,638.41L66.55,638.41L69.37,638.41L72.18,638.41L75,638.41L77.82,638.41L80.63,638.41L83.45,638.41L86.27,638.41L89.09,638.41L91.9,638.41L94.72,638.41L97.54,638.41L100.35,638.41L103.17,638.41L105.99,638.41L108.8,638.41L111.62,638.41L114.44,638.41L117.25,638.41L120.07,638.41L122.89,638.41L125.71,638.41L128.52,638.41L131.34,638.41L134.16,638.41L136.97,638.41L139.79,638.42L142.61,638.42L145.42,638.42L148.24,638.43L151.06,638.43L153.87,638.44L156.69,638.45L159.51,638.46L162.32,638.47L165.14,638.49L167.96,638.5L170.78,638.53L173.59,638.55L176.41,638.58L179.23,638.62L182.04,638.66L184.86,638.71L187.68,638.77L190.49,638.84L193.31,638.92L196.13,639L198.94,639.1L201.76,639.22L204.58,639.34L207.39,639.48L210.21,639.64L213.03,639.82L215.84,640.01L218.66,640.22L221.48,640.44L224.3,640.69L227.11,640.95L229.93,641.23L232.75,641.53L235.56,641.84L238.38,642.17L241.2,642.51L244.01,642.86L246.83,643.21L249.65,643.57L252.46,643.93L255.28,644.29L258.1,644.63L260.92,644.96L263.73,645.27L266.55,645.56L269.37,645.81L272.18,646.03L275,646.2L277.82,646.33L280.63,646.41L283.45,646.43L286.27,646.41L289.08,646.33L291.9,646.2L294.72,646.03L297.53,645.81L300.35,645.56L303.17,645.27L305.99,644.96L308.8,644.63L311.62,644.29L314.44,643.93L317.25,643.57L320.07,643.21L322.89,642.86L325.7,642.51L328.52,642.17L331.34,641.84L334.15,641.53L336.97,641.23L339.79,640.95L342.6,640.69L345.42,640.44L348.24,640.22L351.06,640.01L353.87,639.82L356.69,639.64L359.51,639.48L362.32,639.34L365.14,639.22L367.96,639.1L370.77,639L373.59,638.92L376.41,638.84L379.22,638.77L382.04,638.71L384.86,638.66L387.67,638.62L390.49,638.58L393.31,638.55L396.12,638.53L398.94,638.5L401.76,638.49L404.58,638.47L407.39,638.46L410.21,638.45L413.03,638.44L415.84,638.43L418.66,638.43L421.48,638.42L424.29,638.42L427.11,638.42L429.93,638.41L432.74,638.41L435.56,638.41L438.38,638.41L441.2,638.41L444.01,638.41L446.83,638.41L449.65,638.41L452.46,638.41L455.28,638.41L458.1,638.41L460.91,638.41L463.73,638.41L466.55,638.41L469.36,638.41L472.18,638.41L475,638.41L477.81,638.41L480.63,638.41L483.45,638.41L486.27,638.41L489.08,638.41L491.9,638.41L494.72,638.41L497.53,638.41L500.35,638.41L503.17,638.41L505.98,638.41L508.8,638.41M58.1,680.49L60.92,680.49L63.73,680.49L66.55,680.49L69.37,680.49L72.18,680.49L75,680.49L77.82,680.49L80.63,680.49L83.45,680.49L86.27,680.49L89.09,680.49L91.9,680.49L94.72,680.49L97.54,680.49L100.35,680.49L103.17,680.49L105.99,680.49L108.8,680.49L111.62,680.49L114.44,680.49L117.25,680.49L120.07,680.49L122.89,680.49L125.71,680.49L128.52,680.49L131.34,680.49L134.16,680.49L136.97,680.49L139.79,680.48L142.61,680.48L145.42,680.48L148.24,680.47L151.06,680.47L153.87,680.46L156.69,680.45L159.51,680.44L162.32,680.43L165.14,680.41L167.96,680.4L170.78,680.37L173.59,680.35L176.41,680.32L179.23,680.28L182.04,680.24L184.86,680.19L187.68,680.13L190.49,680.06L193.31,679.98L196.13,679.9L198.94,679.8L201.76,679.68L204.58,679.56L207.39,679.42L210.21,679.26L213.03,679.08L215.84,678.89L218.66,678.68L221.48,678.46L224.3,678.21L227.11,677.95L229.93,677.67L232.75,677.37L235.56,677.06L238.38,676.73L241.2,676.39L244.01,676.04L246.83,675.69L249.65,675.33L252.46,674.97L255.28,674.61L258.1,674.27L260.92,673.94L263.73,673.63L266.55,673.34L269.37,673.09L272.18,672.87L275,672.7L277.82,672.57L280.63,672.49L283.45,672.47L286.27,672.49L289.08,672.57L291.9,672.7L294.72,672.87L297.53,673.09L300.35,673.34L303.17,673.63L305.99,673.94L308.8,674.27L311.62,674.61L314.44,674.97L317.25,675.33L320.07,675.69L322.89,676.04L325.7,676.39L328.52,676.73L331.34,677.06L334.15,677.37L336.97,677.67L339.79,677.95L342.6,678.21L345.42,678.46L348.24,678.68L351.06,678.89L353.87,679.08L356.69,679.26L359.51,679.42L362.32,679.56L365.14,679.68L367.96,679.8L370.77,679.9L373.59,679.98L376.41,680.06L379.22,680.13L382.04,680.19L384.86,680.24L387.67,680.28L390.49,680.32L393.31,680.35L396.12,680.37L398.94,680.4L401.76,680.41L404.58,680.43L407.39,680.44L410.21,680.45L413.03,680.46L415.84,680.47L418.66,680.47L421.48,680.48L424.29,680.48L427.11,680.48L429.93,680.49L432.74,680.49L435.56,680.49L438.38,680.49L441.2,680.49L444.01,680.49L446.83,680.49L449.65,680.49L452.46,680.49L455.28,680.49L458.1,680.49L460.91,680.49L463.73,680.49L466.55,680.49L469.36,680.49L472.18,680.49L475,680.49L477.81,680.49L480.63,680.49L483.45,680.49L486.27,680.49L489.08,680.49L491.9,680.49L494.72,680.49L497.53,680.49L500.35,680.49L503.17,680.49L505.98,680.49L508.8,680.49M58.1,631.39L60.92,631.39L63.73,631.39L66.55,631.39L69.37,631.39L72.18,631.39L75,631.39L77.82,631.39L80.63,631.39L83.45,631.39L86.27,631.39L89.09,631.39L91.9,631.39L94.72,631.39L97.54,631.39L100.35,631.39L103.17,631.39L105.99,631.39L108.8,631.39L111.62,631.39L114.44,631.39L117.25,631.39L120.07,631.39L122.89,631.39L125.71,631.39L128.52,631.4L131.34,631.4L134.16,631.4L136.97,631.4L139.79,631.4L142.61,631.4L145.42,631.4L148.24,631.41L151.06,631.41L153.87,631.42L156.69,631.42L159.51,631.43L162.32,631.44L165.14,631.45L167.96,631.47L170.78,631.48L173.59,631.5L176.41,631.52L179.23,631.55L182.04,631.58L184.86,631.62L187.68,631.66L190.49,631.71L193.31,631.77L196.13,631.84L198.94,631.91L201.76,631.99L204.58,632.09L207.39,632.19L210.21,632.31L213.03,632.43L215.84,632.57L218.66,632.72L221.48,632.88L224.3,633.06L227.11,633.25L229.93,633.44L232.75,633.65L235.56,633.87L238.38,634.09L241.2,634.32L244.01,634.56L246.83,634.79L249.65,635.03L252.46,635.26L255.28,635.48L258.1,635.7L260.92,635.91L263.73,636.1L266.55,636.27L269.37,636.42L272.18,636.55L275,636.65L277.82,636.72L280.63,636.77L283.45,636.78L286.27,636.77L289.08,636.72L291.9,636.65L294.72,636.55L297.53,636.42L300.35,636.27L303.17,636.1L305.99,635.91L308.8,635.7L311.62,635.48L314.44,635.26L317.25,635.03L320.07,634.79L322.89,634.56L325.7,634.32L328.52,634.09L331.34,633.87L334.15,633.65L336.97,633.44L339.79,633.25L342.6,633.06L345.42,632.88L348.24,632.72L351.06,632.57L353.87,632.43L356.69,632.31L359.51,632.19L362.32,632.09L365.14,631.99L367.96,631.91L370.77,631.84L373.59,631.77L376.41,631.71L379.22,631.66L382.04,631.62L384.86,631.58L387.67,631.55L390.49,631.52L393.31,631.5L396.12,631.48L398.94,631.47L401.76,631.45L404.58,631.44L407.39,631.43L410.21,631.42L413.03,631.42L415.84,631.41L418.66,631.41L421.48,631.4L424.29,631.4L427.11,631.4L429.93,631.4L432.74,631.4L435.56,631.4L438.38,631.4L441.2,631.39L444.01,631.39L446.83,631.39L449.65,631.39L452.46,631.39L455.28,631.39L458.1,631.39L460.91,631.39L463.73,631.39L466.55,631.39L469.36,631.39L472.18,631.39L475,631.39L477.81,631.39L480.63,631.39L483.45,631.39L486.27,631.39L489.08,631.39L491.9,631.39L494.72,631.39L497.53,631.39L500.35,631.39L503.17,631.39L505.98,631.39L508.8,631.39M58.1,687.51L60.92,687.51L63.73,687.51L66.55,687.51L69.37,687.51L72.18,687.51L75,687.51L77.82,687.51L80.63,687.51L83.45,687.51L86.27,687.51L89.09,687.51L91.9,687.51L94.72,687.51L97.54,687.51L100.35,687.51L103.17,687.51L105.99,687.51L108.8,687.51L111.62,687.51L114.44,687.51L117.25,687.51L120.07,687.51L122.89,687.51L125.71,687.51L128.52,687.5L131.34,687.5L134.16,687.5L136.97,687.5L139.79,687.5L142.61,687.5L145.42,687.5L148.24,687.49L151.06,687.49L153.87,687.48L156.69,687.48L159.51,687.47L162.32,687.46L165.14,687.45L167.96,687.43L170.78,687.42L173.59,687.4L176.41,687.38L179.23,687.35L182.04,687.32L184.86,687.28L187.68,687.24L190.49,687.19L193.31,687.13L196.13,687.06L198.94,686.99L201.76,686.91L204.58,686.81L207.39,686.71L210.21,686.59L213.03,686.47L215.84,686.33L218.66,686.18L221.48,686.02L224.3,685.84L227.11,685.65L229.93,685.46L232.75,685.25L235.56,685.03L238.38,684.81L241.2,684.58L244.01,684.34L246.83,684.11L249.65,683.87L252.46,683.64L255.28,683.42L258.1,683.2L260.92,682.99L263.73,682.8L266.55,682.63L269.37,682.48L272.18,682.35L275,682.25L277.82,682.18L280.63,682.13L283.45,682.12L286.27,682.13L289.08,682.18L291.9,682.25L294.72,682.35L297.53,682.48L300.35,682.63L303.17,682.8L305.99,682.99L308.8,683.2L311.62,683.42L314.44,683.64L317.25,683.87L320.07,684.11L322.89,684.34L325.7,684.58L328.52,684.81L331.34,685.03L334.15,685.25L336.97,685.46L339.79,685.65L342.6,685.84L345.42,686.02L348.24,686.18L351.06,686.33L353.87,686.47L356.69,686.59L359.51,686.71L362.32,686.81L365.14,686.91L367.96,686.99L370.77,687.06L373.59,687.13L376.41,687.19L379.22,687.24L382.04,687.28L384.86,687.32L387.67,687.35L390.49,687.38L393.31,687.4L396.12,687.42L398.94,687.43L401.76,687.45L404.58,687.46L407.39,687.47L410.21,687.48L413.03,687.48L415.84,687.49L418.66,687.49L421.48,687.5L424.29,687.5L427.11,687.5L429.93,687.5L432.74,687.5L435.56,687.5L438.38,687.5L441.2,687.51L444.01,687.51L446.83,687.51L449.65,687.51L452.46,687.51L455.28,687.51L458.1,687.51L460.91,687.51L463.73,687.51L466.55,687.51L469.36,687.51L472.18,687.51L475,687.51L477.81,687.51L480.63,687.51L483.45,687.51L486.27,687.51L489.08,687.51L491.9,687.51L494.72,687.51L497.53,687.51L500.35,687.51L503.17,687.51L505.98,687.51L508.8,687.51M58.1,624.38L60.92,624.38L63.73,624.38L66.55,624.38L69.37,624.38L72.18,624.38L75,624.38L77.82,624.38L80.63,624.38L83.45,624.38L86.27,624.38L89.09,624.38L91.9,624.38L94.72,624.38L97.54,624.38L100.35,624.38L103.17,624.38L105.99,624.38L108.8,624.38L111.62,624.38L114.44,624.38L117.25,624.38L120.07,624.38L122.89,624.38L125.71,624.38L128.52,624.38L131.34,624.38L134.16,624.38L136.97,624.38L139.79,624.38L142.61,624.39L145.42,624.39L148.24,624.39L151.06,624.39L153.87,624.4L156.69,624.4L159.51,624.41L162.32,624.42L165.14,624.43L167.96,624.44L170.78,624.45L173.59,624.47L176.41,624.48L179.23,624.51L182.04,624.53L184.86,624.56L187.68,624.6L190.49,624.64L193.31,624.68L196.13,624.73L198.94,624.79L201.76,624.86L204.58,624.93L207.39,625.01L210.21,625.11L213.03,625.21L215.84,625.31L218.66,625.43L221.48,625.56L224.3,625.7L227.11,625.84L229.93,626L232.75,626.16L235.56,626.32L238.38,626.5L241.2,626.67L244.01,626.85L246.83,627.03L249.65,627.21L252.46,627.39L255.28,627.56L258.1,627.72L260.92,627.87L263.73,628.01L266.55,628.14L269.37,628.25L272.18,628.35L275,628.42L277.82,628.48L280.63,628.51L283.45,628.52L286.27,628.51L289.08,628.48L291.9,628.42L294.72,628.35L297.53,628.25L300.35,628.14L303.17,628.01L305.99,627.87L308.8,627.72L311.62,627.56L314.44,627.39L317.25,627.21L320.07,627.03L322.89,626.85L325.7,626.67L328.52,626.5L331.34,626.32L334.15,626.16L336.97,626L339.79,625.84L342.6,625.7L345.42,625.56L348.24,625.43L351.06,625.31L353.87,625.21L356.69,625.11L359.51,625.01L362.32,624.93L365.14,624.86L367.96,624.79L370.77,624.73L373.59,624.68L376.41,624.64L379.22,624.6L382.04,624.56L384.86,624.53L387.67,624.51L390.49,624.48L393.31,624.47L396.12,624.45L398.94,624.44L401.76,624.43L404.58,624.42L407.39,624.41L410.21,624.4L413.03,624.4L415.84,624.39L418.66,624.39L421.48,624.39L424.29,624.39L427.11,624.38L429.93,624.38L432.74,624.38L435.56,624.38L438.38,624.38L441.2,624.38L444.01,624.38L446.83,624.38L449.65,624.38L452.46,624.38L455.28,624.38L458.1,624.38L460.91,624.38L463.73,624.38L466.55,624.38L469.36,624.38L472.18,624.38L475,624.38L477.81,624.38L480.63,624.38L483.45,624.38L486.27,624.38L489.08,624.38L491.9,624.38L494.72,624.38L497.53,624.38L500.35,624.38L503.17,624.38L505.98,624.38L508.8,624.38M58.1,694.52L60.92,694.52L63.73,694.52L66.55,694.52L69.37,694.52L72.18,694.52L75,694.52L77.82,694.52L80.63,694.52L83.45,694.52L86.27,694.52L89.09,694.52L91.9,694.52L94.72,694.52L97.54,694.52L100.35,694.52L103.17,694.52L105.99,694.52L108.8,694.52L111.62,694.52L114.44,694.52L117.25,694.52L120.07,694.52L122.89,694.52L125.71,694.52L128.52,694.52L131.34,694.52L134.16,694.52L136.97,694.52L139.79,694.52L142.61,694.51L145.42,694.51L148.24,694.51L151.06,694.51L153.87,694.5L156.69,694.5L159.51,694.49L162.32,694.48L165.14,694.47L167.96,694.46L170.78,694.45L173.59,694.43L176.41,694.42L179.23,694.39L182.04,694.37L184.86,694.34L187.68,694.3L190.49,694.26L193.31,694.22L196.13,694.17L198.94,694.11L201.76,694.04L204.58,693.97L207.39,693.89L210.21,693.79L213.03,693.69L215.84,693.59L218.66,693.47L221.48,693.34L224.3,693.2L227.11,693.06L229.93,692.9L232.75,692.74L235.56,692.58L238.38,692.4L241.2,692.23L244.01,692.05L246.83,691.87L249.65,691.69L252.46,691.51L255.28,691.34L258.1,691.18L260.92,691.03L263.73,690.89L266.55,690.76L269.37,690.65L272.18,690.55L275,690.48L277.82,690.42L280.63,690.39L283.45,690.38L286.27,690.39L289.08,690.42L291.9,690.48L294.72,690.55L297.53,690.65L300.35,690.76L303.17,690.89L305.99,691.03L308.8,691.18L311.62,691.34L314.44,691.51L317.25,691.69L320.07,691.87L322.89,692.05L325.7,692.23L328.52,692.4L331.34,692.58L334.15,692.74L336.97,692.9L339.79,693.06L342.6,693.2L345.42,693.34L348.24,693.47L351.06,693.59L353.87,693.69L356.69,693.79L359.51,693.89L362.32,693.97L365.14,694.04L367.96,694.11L370.77,694.17L373.59,694.22L376.41,694.26L379.22,694.3L382.04,694.34L384.86,694.37L387.67,694.39L390.49,694.42L393.31,694.43L396.12,694.45L398.94,694.46L401.76,694.47L404.58,694.48L407.39,694.49L410.21,694.5L413.03,694.5L415.84,694.51L418.66,694.51L421.48,694.51L424.29,694.51L427.11,694.52L429.93,694.52L432.74,694.52L435.56,694.52L438.38,694.52L441.2,694.52L444.01,694.52L446.83,694.52L449.65,694.52L452.46,694.52L455.28,694.52L458.1,694.52L460.91,694.52L463.73,694.52L466.55,694.52L469.36,694.52L472.18,694.52L475,694.52L477.81,694.52L480.63,694.52L483.45,694.52L486.27,694.52L489.08,694.52L491.9,694.52L494.72,694.52L497.53,694.52L500.35,694.52L503.17,694.52L505.98,694.52L508.8,694.52M58.1,617.36L60.92,617.36L63.73,617.36L66.55,617.36L69.37,617.36L72.18,617.36L75,617.36L77.82,617.36L80.63,617.36L83.45,617.36L86.27,617.36L89.09,617.36L91.9,617.36L94.72,617.36L97.54,617.36L100.35,617.36L103.17,617.36L105.99,617.36L108.8,617.36L111.62,617.36L114.44,617.36L117.25,617.36L120.07,617.36L122.89,617.37L125.71,617.37L128.52,617.37L131.34,617.37L134.16,617.37L136.97,617.37L139.79,617.37L142.61,617.37L145.42,617.37L148.24,617.37L151.06,617.38L153.87,617.38L156.69,617.38L159.51,617.39L162.32,617.4L165.14,617.4L167.96,617.41L170.78,617.42L173.59,617.44L176.41,617.45L179.23,617.47L182.04,617.49L184.86,617.52L187.68,617.54L190.49,617.58L193.31,617.62L196.13,617.66L198.94,617.71L201.76,617.76L204.58,617.82L207.39,617.89L210.21,617.97L213.03,618.05L215.84,618.14L218.66,618.24L221.48,618.34L224.3,618.46L227.11,618.58L229.93,618.7L232.75,618.83L235.56,618.97L238.38,619.11L241.2,619.26L244.01,619.4L246.83,619.55L249.65,619.69L252.46,619.84L255.28,619.97L258.1,620.11L260.92,620.23L263.73,620.34L266.55,620.44L269.37,620.53L272.18,620.61L275,620.67L277.82,620.71L280.63,620.74L283.45,620.75L286.27,620.74L289.08,620.71L291.9,620.67L294.72,620.61L297.53,620.53L300.35,620.44L303.17,620.34L305.99,620.23L308.8,620.11L311.62,619.97L314.44,619.84L317.25,619.69L320.07,619.55L322.89,619.4L325.7,619.26L328.52,619.11L331.34,618.97L334.15,618.83L336.97,618.7L339.79,618.58L342.6,618.46L345.42,618.34L348.24,618.24L351.06,618.14L353.87,618.05L356.69,617.97L359.51,617.89L362.32,617.82L365.14,617.76L367.96,617.71L370.77,617.66L373.59,617.62L376.41,617.58L379.22,617.54L382.04,617.52L384.86,617.49L387.67,617.47L390.49,617.45L393.31,617.44L396.12,617.42L398.94,617.41L401.76,617.4L404.58,617.4L407.39,617.39L410.21,617.38L413.03,617.38L415.84,617.38L418.66,617.37L421.48,617.37L424.29,617.37L427.11,617.37L429.93,617.37L432.74,617.37L435.56,617.37L438.38,617.37L441.2,617.37L444.01,617.37L446.83,617.36L449.65,617.36L452.46,617.36L455.28,617.36L458.1,617.36L460.91,617.36L463.73,617.36L466.55,617.36L469.36,617.36L472.18,617.36L475,617.36L477.81,617.36L480.63,617.36L483.45,617.36L486.27,617.36L489.08,617.36L491.9,617.36L494.72,617.36L497.53,617.36L500.35,617.36L503.17,617.36L505.98,617.36L508.8,617.36M58.1,701.54L60.92,701.54L63.73,701.54L66.55,701.54L69.37,701.54L72.18,701.54L75,701.54L77.82,701.54L80.63,701.54L83.45,701.54L86.27,701.54L89.09,701.54L91.9,701.54L94.72,701.54L97.54,701.54L100.35,701.54L103.17,701.54L105.99,701.54L108.8,701.54L111.62,701.54L114.44,701.54L117.25,701.54L120.07,701.54L122.89,701.53L125.71,701.53L128.52,701.53L131.34,701.53L134.16,701.53L136.97,701.53L139.79,701.53L142.61,701.53L145.42,701.53L148.24,701.53L151.06,701.52L153.87,701.52L156.69,701.52L159.51,701.51L162.32,701.5L165.14,701.5L167.96,701.49L170.78,701.48L173.59,701.46L176.41,701.45L179.23,701.43L182.04,701.41L184.86,701.38L187.68,701.36L190.49,701.32L193.31,701.28L196.13,701.24L198.94,701.19L201.76,701.14L204.58,701.08L207.39,701.01L210.21,700.93L213.03,700.85L215.84,700.76L218.66,700.66L221.48,700.56L224.3,700.44L227.11,700.32L229.93,700.2L232.75,700.07L235.56,699.93L238.38,699.79L241.2,699.64L244.01,699.5L246.83,699.35L249.65,699.21L252.46,699.06L255.28,698.93L258.1,698.79L260.92,698.67L263.73,698.56L266.55,698.46L269.37,698.37L272.18,698.29L275,698.23L277.82,698.19L280.63,698.16L283.45,698.15L286.27,698.16L289.08,698.19L291.9,698.23L294.72,698.29L297.53,698.37L300.35,698.46L303.17,698.56L305.99,698.67L308.8,698.79L311.62,698.93L314.44,699.06L317.25,699.21L320.07,699.35L322.89,699.5L325.7,699.64L328.52,699.79L331.34,699.93L334.15,700.07L336.97,700.2L339.79,700.32L342.6,700.44L345.42,700.56L348.24,700.66L351.06,700.76L353.87,700.85L356.69,700.93L359.51,701.01L362.32,701.08L365.14,701.14L367.96,701.19L370.77,701.24L373.59,701.28L376.41,701.32L379.22,701.36L382.04,701.38L384.86,701.41L387.67,701.43L390.49,701.45L393.31,701.46L396.12,701.48L398.94,701.49L401.76,701.5L404.58,701.5L407.39,701.51L410.21,701.52L413.03,701.52L415.84,701.52L418.66,701.53L421.48,701.53L424.29,701.53L427.11,701.53L429.93,701.53L432.74,701.53L435.56,701.53L438.38,701.53L441.2,701.53L444.01,701.53L446.83,701.54L449.65,701.54L452.46,701.54L455.28,701.54L458.1,701.54L460.91,701.54L463.73,701.54L466.55,701.54L469.36,701.54L472.18,701.54L475,701.54L477.81,701.54L480.63,701.54L483.45,701.54L486.27,701.54L489.08,701.54L491.9,701.54L494.72,701.54L497.53,701.54L500.35,701.54L503.17,701.54L505.98,701.54L508.8,701.54M58.1,610.35L60.92,610.35L63.73,610.35L66.55,610.35L69.37,610.35L72.18,610.35L75,610.35L77.82,610.35L80.63,610.35L83.45,610.35L86.27,610.35L89.09,610.35L91.9,610.35L94.72,610.35L97.54,610.35L100.35,610.35L103.17,610.35L105.99,610.35L108.8,610.35L111.62,610.35L114.44,610.35L117.25,610.35L120.07,610.35L122.89,610.35L125.71,610.35L128.52,610.35L131.34,610.35L134.16,610.35L136.97,610.35L139.79,610.35L142.61,610.36L145.42,610.36L148.24,610.36L151.06,610.36L153.87,610.36L156.69,610.37L159.51,610.37L162.32,610.38L165.14,610.38L167.96,610.39L170.78,610.4L173.59,610.41L176.41,610.43L179.23,610.44L182.04,610.46L184.86,610.48L187.68,610.5L190.49,610.53L193.31,610.57L196.13,610.6L198.94,610.64L201.76,610.69L204.58,610.74L207.39,610.8L210.21,610.87L213.03,610.94L215.84,611.01L218.66,611.1L221.48,611.19L224.3,611.28L227.11,611.38L229.93,611.49L232.75,611.6L235.56,611.72L238.38,611.84L241.2,611.96L244.01,612.09L246.83,612.21L249.65,612.33L252.46,612.45L255.28,612.57L258.1,612.68L260.92,612.78L263.73,612.88L266.55,612.96L269.37,613.04L272.18,613.1L275,613.15L277.82,613.19L280.63,613.21L283.45,613.22L286.27,613.21L289.08,613.19L291.9,613.15L294.72,613.1L297.53,613.04L300.35,612.96L303.17,612.88L305.99,612.78L308.8,612.68L311.62,612.57L314.44,612.45L317.25,612.33L320.07,612.21L322.89,612.09L325.7,611.96L328.52,611.84L331.34,611.72L334.15,611.6L336.97,611.49L339.79,611.38L342.6,611.28L345.42,611.19L348.24,611.1L351.06,611.01L353.87,610.94L356.69,610.87L359.51,610.8L362.32,610.74L365.14,610.69L367.96,610.64L370.77,610.6L373.59,610.57L376.41,610.53L379.22,610.5L382.04,610.48L384.86,610.46L387.67,610.44L390.49,610.43L393.31,610.41L396.12,610.4L398.94,610.39L401.76,610.38L404.58,610.38L407.39,610.37L410.21,610.37L413.03,610.36L415.84,610.36L418.66,610.36L421.48,610.36L424.29,610.36L427.11,610.35L429.93,610.35L432.74,610.35L435.56,610.35L438.38,610.35L441.2,610.35L444.01,610.35L446.83,610.35L449.65,610.35L452.46,610.35L455.28,610.35L458.1,610.35L460.91,610.35L463.73,610.35L466.55,610.35L469.36,610.35L472.18,610.35L475,610.35L477.81,610.35L480.63,610.35L483.45,610.35L486.27,610.35L489.08,610.35L491.9,610.35L494.72,610.35L497.53,610.35L500.35,610.35L503.17,610.35L505.98,610.35L508.8,610.35M58.1,708.55L60.92,708.55L63.73,708.55L66.55,708.55L69.37,708.55L72.18,708.55L75,708.55L77.82,708.55L80.63,708.55L83.45,708.55L86.27,708.55L89.09,708.55L91.9,708.55L94.72,708.55L97.54,708.55L100.35,708.55L103.17,708.55L105.99,708.55L108.8,708.55L111.62,708.55L114.44,708.55L117.25,708.55L120.07,708.55L122.89,708.55L125.71,708.55L128.52,708.55L131.34,708.55L134.16,708.55L136.97,708.55L139.79,708.55L142.61,708.54L145.42,708.54L148.24,708.54L151.06,708.54L153.87,708.54L156.69,708.53L159.51,708.53L162.32,708.52L165.14,708.52L167.96,708.51L170.78,708.5L173.59,708.49L176.41,708.47L179.23,708.46L182.04,708.44L184.86,708.42L187.68,708.4L190.49,708.37L193.31,708.33L196.13,708.3L198.94,708.26L201.76,708.21L204.58,708.16L207.39,708.1L210.21,708.03L213.03,707.96L215.84,707.89L218.66,707.8L221.48,707.71L224.3,707.62L227.11,707.52L229.93,707.41L232.75,707.3L235.56,707.18L238.38,707.06L241.2,706.94L244.01,706.81L246.83,706.69L249.65,706.57L252.46,706.45L255.28,706.33L258.1,706.22L260.92,706.12L263.73,706.02L266.55,705.94L269.37,705.86L272.18,705.8L275,705.75L277.82,705.71L280.63,705.69L283.45,705.68L286.27,705.69L289.08,705.71L291.9,705.75L294.72,705.8L297.53,705.86L300.35,705.94L303.17,706.02L305.99,706.12L308.8,706.22L311.62,706.33L314.44,706.45L317.25,706.57L320.07,706.69L322.89,706.81L325.7,706.94L328.52,707.06L331.34,707.18L334.15,707.3L336.97,707.41L339.79,707.52L342.6,707.62L345.42,707.71L348.24,707.8L351.06,707.89L353.87,707.96L356.69,708.03L359.51,708.1L362.32,708.16L365.14,708.21L367.96,708.26L370.77,708.3L373.59,708.33L376.41,708.37L379.22,708.4L382.04,708.42L384.86,708.44L387.67,708.46L390.49,708.47L393.31,708.49L396.12,708.5L398.94,708.51L401.76,708.52L404.58,708.52L407.39,708.53L410.21,708.53L413.03,708.54L415.84,708.54L418.66,708.54L421.48,708.54L424.29,708.54L427.11,708.55L429.93,708.55L432.74,708.55L435.56,708.55L438.38,708.55L441.2,708.55L444.01,708.55L446.83,708.55L449.65,708.55L452.46,708.55L455.28,708.55L458.1,708.55L460.91,708.55L463.73,708.55L466.55,708.55L469.36,708.55L472.18,708.55L475,708.55L477.81,708.55L480.63,708.55L483.45,708.55L486.27,708.55L489.08,708.55L491.9,708.55L494.72,708.55L497.53,708.55L500.35,708.55L503.17,708.55L505.98,708.55L508.8,708.55M58.1,603.34L60.92,603.34L63.73,603.34L66.55,603.34L69.37,603.34L72.18,603.34L75,603.34L77.82,603.34L80.63,603.34L83.45,603.34L86.27,603.34L89.09,603.34L91.9,603.34L94.72,603.34L97.54,603.34L100.35,603.34L103.17,603.34L105.99,603.34L108.8,603.34L111.62,603.34L114.44,603.34L117.25,603.34L120.07,603.34L122.89,603.34L125.71,603.34L128.52,603.34L131.34,603.34L134.16,603.34L136.97,603.34L139.79,603.34L142.61,603.34L145.42,603.34L148.24,603.34L151.06,603.35L153.87,603.35L156.69,603.35L159.51,603.35L162.32,603.36L165.14,603.37L167.96,603.37L170.78,603.38L173.59,603.39L176.41,603.4L179.23,603.42L182.04,603.43L184.86,603.45L187.68,603.47L190.49,603.5L193.31,603.52L196.13,603.56L198.94,603.59L201.76,603.63L204.58,603.68L207.39,603.73L210.21,603.79L213.03,603.85L215.84,603.92L218.66,603.99L221.48,604.07L224.3,604.15L227.11,604.24L229.93,604.33L232.75,604.43L235.56,604.53L238.38,604.63L241.2,604.74L244.01,604.85L246.83,604.96L249.65,605.06L252.46,605.17L255.28,605.27L258.1,605.36L260.92,605.45L263.73,605.53L266.55,605.61L269.37,605.67L272.18,605.73L275,605.77L277.82,605.8L280.63,605.82L283.45,605.83L286.27,605.82L289.08,605.8L291.9,605.77L294.72,605.73L297.53,605.67L300.35,605.61L303.17,605.53L305.99,605.45L308.8,605.36L311.62,605.27L314.44,605.17L317.25,605.06L320.07,604.96L322.89,604.85L325.7,604.74L328.52,604.63L331.34,604.53L334.15,604.43L336.97,604.33L339.79,604.24L342.6,604.15L345.42,604.07L348.24,603.99L351.06,603.92L353.87,603.85L356.69,603.79L359.51,603.73L362.32,603.68L365.14,603.63L367.96,603.59L370.77,603.56L373.59,603.52L376.41,603.5L379.22,603.47L382.04,603.45L384.86,603.43L387.67,603.42L390.49,603.4L393.31,603.39L396.12,603.38L398.94,603.37L401.76,603.37L404.58,603.36L407.39,603.35L410.21,603.35L413.03,603.35L415.84,603.35L418.66,603.34L421.48,603.34L424.29,603.34L427.11,603.34L429.93,603.34L432.74,603.34L435.56,603.34L438.38,603.34L441.2,603.34L444.01,603.34L446.83,603.34L449.65,603.34L452.46,603.34L455.28,603.34L458.1,603.34L460.91,603.34L463.73,603.34L466.55,603.34L469.36,603.34L472.18,603.34L475,603.34L477.81,603.34L480.63,603.34L483.45,603.34L486.27,603.34L489.08,603.34L491.9,603.34L494.72,603.34L497.53,603.34L500.35,603.34L503.17,603.34L505.98,603.34L508.8,603.34M58.1,715.56L60.92,715.56L63.73,715.56L66.55,715.56L69.37,715.56L72.18,715.56L75,715.56L77.82,715.56L80.63,715.56L83.45,715.56L86.27,715.56L89.09,715.56L91.9,715.56L94.72,715.56L97.54,715.56L100.35,715.56L103.17,715.56L105.99,715.56L108.8,715.56L111.62,715.56L114.44,715.56L117.25,715.56L120.07,715.56L122.89,715.56L125.71,715.56L128.52,715.56L131.34,715.56L134.16,715.56L136.97,715.56L139.79,715.56L142.61,715.56L145.42,715.56L148.24,715.56L151.06,715.55L153.87,715.55L156.69,715.55L159.51,715.55L162.32,715.54L165.14,715.53L167.96,715.53L170.78,715.52L173.59,715.51L176.41,715.5L179.23,715.48L182.04,715.47L184.86,715.45L187.68,715.43L190.49,715.4L193.31,715.38L196.13,715.34L198.94,715.31L201.76,715.27L204.58,715.22L207.39,715.17L210.21,715.11L213.03,715.05L215.84,714.98L218.66,714.91L221.48,714.83L224.3,714.75L227.11,714.66L229.93,714.57L232.75,714.47L235.56,714.37L238.38,714.27L241.2,714.16L244.01,714.05L246.83,713.94L249.65,713.84L252.46,713.73L255.28,713.63L258.1,713.54L260.92,713.45L263.73,713.37L266.55,713.29L269.37,713.23L272.18,713.17L275,713.13L277.82,713.1L280.63,713.08L283.45,713.07L286.27,713.08L289.08,713.1L291.9,713.13L294.72,713.17L297.53,713.23L300.35,713.29L303.17,713.37L305.99,713.45L308.8,713.54L311.62,713.63L314.44,713.73L317.25,713.84L320.07,713.94L322.89,714.05L325.7,714.16L328.52,714.27L331.34,714.37L334.15,714.47L336.97,714.57L339.79,714.66L342.6,714.75L345.42,714.83L348.24,714.91L351.06,714.98L353.87,715.05L356.69,715.11L359.51,715.17L362.32,715.22L365.14,715.27L367.96,715.31L370.77,715.34L373.59,715.38L376.41,715.4L379.22,715.43L382.04,715.45L384.86,715.47L387.67,715.48L390.49,715.5L393.31,715.51L396.12,715.52L398.94,715.53L401.76,715.53L404.58,715.54L407.39,715.55L410.21,715.55L413.03,715.55L415.84,715.55L418.66,715.56L421.48,715.56L424.29,715.56L427.11,715.56L429.93,715.56L432.74,715.56L435.56,715.56L438.38,715.56L441.2,715.56L444.01,715.56L446.83,715.56L449.65,715.56L452.46,715.56L455.28,715.56L458.1,715.56L460.91,715.56L463.73,715.56L466.55,715.56L469.36,715.56L472.18,715.56L475,715.56L477.81,715.56L480.63,715.56L483.45,715.56L486.27,715.56L489.08,715.56L491.9,715.56L494.72,715.56L497.53,715.56L500.35,715.56L503.17,715.56L505.98,715.56L508.8,715.56M58.1,596.32L60.92,596.32L63.73,596.32L66.55,596.32L69.37,596.32L72.18,596.32L75,596.32L77.82,596.32L80.63,596.32L83.45,596.32L86.27,596.32L89.09,596.32L91.9,596.32L94.72,596.32L97.54,596.32L100.35,596.32L103.17,596.32L105.99,596.32L108.8,596.32L111.62,596.32L114.44,596.32L117.25,596.32L120.07,596.32L122.89,596.32L125.71,596.32L128.52,596.32L131.34,596.32L134.16,596.32L136.97,596.32L139.79,596.32L142.61,596.33L145.42,596.33L148.24,596.33L151.06,596.33L153.87,596.33L156.69,596.33L159.51,596.34L162.32,596.34L165.14,596.35L167.96,596.35L170.78,596.36L173.59,596.37L176.41,596.38L179.23,596.39L182.04,596.41L184.86,596.42L187.68,596.44L190.49,596.46L193.31,596.49L196.13,596.52L198.94,596.55L201.76,596.59L204.58,596.63L207.39,596.67L210.21,596.72L213.03,596.78L215.84,596.84L218.66,596.9L221.48,596.97L224.3,597.04L227.11,597.12L229.93,597.21L232.75,597.29L235.56,597.38L238.38,597.47L241.2,597.57L244.01,597.66L246.83,597.76L249.65,597.85L252.46,597.94L255.28,598.03L258.1,598.11L260.92,598.19L263.73,598.27L266.55,598.33L269.37,598.39L272.18,598.44L275,598.47L277.82,598.5L280.63,598.52L283.45,598.52L286.27,598.52L289.08,598.5L291.9,598.47L294.72,598.44L297.53,598.39L300.35,598.33L303.17,598.27L305.99,598.19L308.8,598.11L311.62,598.03L314.44,597.94L317.25,597.85L320.07,597.76L322.89,597.66L325.7,597.57L328.52,597.47L331.34,597.38L334.15,597.29L336.97,597.21L339.79,597.12L342.6,597.04L345.42,596.97L348.24,596.9L351.06,596.84L353.87,596.78L356.69,596.72L359.51,596.67L362.32,596.63L365.14,596.59L367.96,596.55L370.77,596.52L373.59,596.49L376.41,596.46L379.22,596.44L382.04,596.42L384.86,596.41L387.67,596.39L390.49,596.38L393.31,596.37L396.12,596.36L398.94,596.35L401.76,596.35L404.58,596.34L407.39,596.34L410.21,596.33L413.03,596.33L415.84,596.33L418.66,596.33L421.48,596.33L424.29,596.33L427.11,596.32L429.93,596.32L432.74,596.32L435.56,596.32L438.38,596.32L441.2,596.32L444.01,596.32L446.83,596.32L449.65,596.32L452.46,596.32L455.28,596.32L458.1,596.32L460.91,596.32L463.73,596.32L466.55,596.32L469.36,596.32L472.18,596.32L475,596.32L477.81,596.32L480.63,596.32L483.45,596.32L486.27,596.32L489.08,596.32L491.9,596.32L494.72,596.32L497.53,596.32L500.35,596.32L503.17,596.32L505.98,596.32L508.8,596.32M58.1,722.58L60.92,722.58L63.73,722.58L66.55,722.58L69.37,722.58L72.18,722.58L75,722.58L77.82,722.58L80.63,722.58L83.45,722.58L86.27,722.58L89.09,722.58L91.9,722.58L94.72,722.58L97.54,722.58L100.35,722.58L103.17,722.58L105.99,722.58L108.8,722.58L111.62,722.58L114.44,722.58L117.25,722.58L120.07,722.58L122.89,722.58L125.71,722.58L128.52,722.58L131.34,722.58L134.16,722.58L136.97,722.58L139.79,722.58L142.61,722.57L145.42,722.57L148.24,722.57L151.06,722.57L153.87,722.57L156.69,722.57L159.51,722.56L162.32,722.56L165.14,722.55L167.96,722.55L170.78,722.54L173.59,722.53L176.41,722.52L179.23,722.51L182.04,722.49L184.86,722.48L187.68,722.46L190.49,722.44L193.31,722.41L196.13,722.38L198.94,722.35L201.76,722.31L204.58,722.27L207.39,722.23L210.21,722.18L213.03,722.12L215.84,722.06L218.66,722L221.48,721.93L224.3,721.86L227.11,721.78L229.93,721.69L232.75,721.61L235.56,721.52L238.38,721.43L241.2,721.33L244.01,721.24L246.83,721.14L249.65,721.05L252.46,720.96L255.28,720.87L258.1,720.79L260.92,720.71L263.73,720.63L266.55,720.57L269.37,720.51L272.18,720.46L275,720.43L277.82,720.4L280.63,720.38L283.45,720.38L286.27,720.38L289.08,720.4L291.9,720.43L294.72,720.46L297.53,720.51L300.35,720.57L303.17,720.63L305.99,720.71L308.8,720.79L311.62,720.87L314.44,720.96L317.25,721.05L320.07,721.14L322.89,721.24L325.7,721.33L328.52,721.43L331.34,721.52L334.15,721.61L336.97,721.69L339.79,721.78L342.6,721.86L345.42,721.93L348.24,722L351.06,722.06L353.87,722.12L356.69,722.18L359.51,722.23L362.32,722.27L365.14,722.31L367.96,722.35L370.77,722.38L373.59,722.41L376.41,722.44L379.22,722.46L382.04,722.48L384.86,722.49L387.67,722.51L390.49,722.52L393.31,722.53L396.12,722.54L398.94,722.55L401.76,722.55L404.58,722.56L407.39,722.56L410.21,722.57L413.03,722.57L415.84,722.57L418.66,722.57L421.48,722.57L424.29,722.57L427.11,722.58L429.93,722.58L432.74,722.58L435.56,722.58L438.38,722.58L441.2,722.58L444.01,722.58L446.83,722.58L449.65,722.58L452.46,722.58L455.28,722.58L458.1,722.58L460.91,722.58L463.73,722.58L466.55,722.58L469.36,722.58L472.18,722.58L475,722.58L477.81,722.58L480.63,722.58L483.45,722.58L486.27,722.58L489.08,722.58L491.9,722.58L494.72,722.58L497.53,722.58L500.35,722.58L503.17,722.58L505.98,722.58L508.8,722.58M58.1,589.31L60.92,589.31L63.73,589.31L66.55,589.31L69.37,589.31L72.18,589.31L75,589.31L77.82,589.31L80.63,589.31L83.45,589.31L86.27,589.31L89.09,589.31L91.9,589.31L94.72,589.31L97.54,589.31L100.35,589.31L103.17,589.31L105.99,589.31L108.8,589.31L111.62,589.31L114.44,589.31L117.25,589.31L120.07,589.31L122.89,589.31L125.71,589.31L128.52,589.31L131.34,589.31L134.16,589.31L136.97,589.31L139.79,589.31L142.61,589.31L145.42,589.31L148.24,589.31L151.06,589.31L153.87,589.32L156.69,589.32L159.51,589.32L162.32,589.33L165.14,589.33L167.96,589.34L170.78,589.34L173.59,589.35L176.41,589.36L179.23,589.37L182.04,589.38L184.86,589.4L187.68,589.42L190.49,589.44L193.31,589.46L196.13,589.48L198.94,589.51L201.76,589.55L204.58,589.58L207.39,589.62L210.21,589.67L213.03,589.72L215.84,589.77L218.66,589.83L221.48,589.89L224.3,589.96L227.11,590.03L229.93,590.1L232.75,590.18L235.56,590.26L238.38,590.34L241.2,590.43L244.01,590.51L246.83,590.6L249.65,590.68L252.46,590.76L255.28,590.84L258.1,590.92L260.92,590.99L263.73,591.05L266.55,591.11L269.37,591.16L272.18,591.2L275,591.24L277.82,591.26L280.63,591.28L283.45,591.28L286.27,591.28L289.08,591.26L291.9,591.24L294.72,591.2L297.53,591.16L300.35,591.11L303.17,591.05L305.99,590.99L308.8,590.92L311.62,590.84L314.44,590.76L317.25,590.68L320.07,590.6L322.89,590.51L325.7,590.43L328.52,590.34L331.34,590.26L334.15,590.18L336.97,590.1L339.79,590.03L342.6,589.96L345.42,589.89L348.24,589.83L351.06,589.77L353.87,589.72L356.69,589.67L359.51,589.62L362.32,589.58L365.14,589.55L367.96,589.51L370.77,589.48L373.59,589.46L376.41,589.44L379.22,589.42L382.04,589.4L384.86,589.38L387.67,589.37L390.49,589.36L393.31,589.35L396.12,589.34L398.94,589.34L401.76,589.33L404.58,589.33L407.39,589.32L410.21,589.32L413.03,589.32L415.84,589.31L418.66,589.31L421.48,589.31L424.29,589.31L427.11,589.31L429.93,589.31L432.74,589.31L435.56,589.31L438.38,589.31L441.2,589.31L444.01,589.31L446.83,589.31L449.65,589.31L452.46,589.31L455.28,589.31L458.1,589.31L460.91,589.31L463.73,589.31L466.55,589.31L469.36,589.31L472.18,589.31L475,589.31L477.81,589.31L480.63,589.31L483.45,589.31L486.27,589.31L489.08,589.31L491.9,589.31L494.72,589.31L497.53,589.31L500.35,589.31L503.17,589.31L505.98,589.31L508.8,589.31M58.1,729.59L60.92,729.59L63.73,729.59L66.55,729.59L69.37,729.59L72.18,729.59L75,729.59L77.82,729.59L80.63,729.59L83.45,729.59L86.27,729.59L89.09,729.59L91.9,729.59L94.72,729.59L97.54,729.59L100.35,729.59L103.17,729.59L105.99,729.59L108.8,729.59L111.62,729.59L114.44,729.59L117.25,729.59L120.07,729.59L122.89,729.59L125.71,729.59L128.52,729.59L131.34,729.59L134.16,729.59L136.97,729.59L139.79,729.59L142.61,729.59L145.42,729.59L148.24,729.59L151.06,729.59L153.87,729.58L156.69,729.58L159.51,729.58L162.32,729.57L165.14,729.57L167.96,729.56L170.78,729.56L173.59,729.55L176.41,729.54L179.23,729.53L182.04,729.52L184.86,729.5L187.68,729.48L190.49,729.46L193.31,729.44L196.13,729.42L198.94,729.39L201.76,729.35L204.58,729.32L207.39,729.28L210.21,729.23L213.03,729.18L215.84,729.13L218.66,729.07L221.48,729.01L224.3,728.94L227.11,728.87L229.93,728.8L232.75,728.72L235.56,728.64L238.38,728.56L241.2,728.47L244.01,728.39L246.83,728.3L249.65,728.22L252.46,728.14L255.28,728.06L258.1,727.98L260.92,727.91L263.73,727.85L266.55,727.79L269.37,727.74L272.18,727.7L275,727.66L277.82,727.64L280.63,727.62L283.45,727.62L286.27,727.62L289.08,727.64L291.9,727.66L294.72,727.7L297.53,727.74L300.35,727.79L303.17,727.85L305.99,727.91L308.8,727.98L311.62,728.06L314.44,728.14L317.25,728.22L320.07,728.3L322.89,728.39L325.7,728.47L328.52,728.56L331.34,728.64L334.15,728.72L336.97,728.8L339.79,728.87L342.6,728.94L345.42,729.01L348.24,729.07L351.06,729.13L353.87,729.18L356.69,729.23L359.51,729.28L362.32,729.32L365.14,729.35L367.96,729.39L370.77,729.42L373.59,729.44L376.41,729.46L379.22,729.48L382.04,729.5L384.86,729.52L387.67,729.53L390.49,729.54L393.31,729.55L396.12,729.56L398.94,729.56L401.76,729.57L404.58,729.57L407.39,729.58L410.21,729.58L413.03,729.58L415.84,729.59L418.66,729.59L421.48,729.59L424.29,729.59L427.11,729.59L429.93,729.59L432.74,729.59L435.56,729.59L438.38,729.59L441.2,729.59L444.01,729.59L446.83,729.59L449.65,729.59L452.46,729.59L455.28,729.59L458.1,729.59L460.91,729.59L463.73,729.59L466.55,729.59L469.36,729.59L472.18,729.59L475,729.59L477.81,729.59L480.63,729.59L483.45,729.59L486.27,729.59L489.08,729.59L491.9,729.59L494.72,729.59L497.53,729.59L500.35,729.59L503.17,729.59L505.98,729.59L508.8,729.59M58.1,582.29L60.92,582.29L63.73,582.29L66.55,582.29L69.37,582.29L72.18,582.29L75,582.29L77.82,582.29L80.63,582.29L83.45,582.29L86.27,582.29L89.09,582.29L91.9,582.29L94.72,582.29L97.54,582.29L100.35,582.29L103.17,582.29L105.99,582.29L108.8,582.29L111.62,582.29L114.44,582.29L117.25,582.29L120.07,582.29L122.89,582.29L125.71,582.29L128.52,582.29L131.34,582.29L134.16,582.29L136.97,582.29L139.79,582.3L142.61,582.3L145.42,582.3L148.24,582.3L151.06,582.3L153.87,582.3L156.69,582.3L159.51,582.31L162.32,582.31L165.14,582.31L167.96,582.32L170.78,582.33L173.59,582.33L176.41,582.34L179.23,582.35L182.04,582.36L184.86,582.38L187.68,582.39L190.49,582.41L193.31,582.43L196.13,582.45L198.94,582.48L201.76,582.51L204.58,582.54L207.39,582.58L210.21,582.62L213.03,582.66L215.84,582.71L218.66,582.77L221.48,582.82L224.3,582.88L227.11,582.95L229.93,583.01L232.75,583.08L235.56,583.16L238.38,583.23L241.2,583.31L244.01,583.39L246.83,583.46L249.65,583.54L252.46,583.61L255.28,583.68L258.1,583.75L260.92,583.82L263.73,583.88L266.55,583.93L269.37,583.97L272.18,584.01L275,584.04L277.82,584.07L280.63,584.08L283.45,584.08L286.27,584.08L289.08,584.07L291.9,584.04L294.72,584.01L297.53,583.97L300.35,583.93L303.17,583.88L305.99,583.82L308.8,583.75L311.62,583.68L314.44,583.61L317.25,583.54L320.07,583.46L322.89,583.39L325.7,583.31L328.52,583.23L331.34,583.16L334.15,583.08L336.97,583.01L339.79,582.95L342.6,582.88L345.42,582.82L348.24,582.77L351.06,582.71L353.87,582.66L356.69,582.62L359.51,582.58L362.32,582.54L365.14,582.51L367.96,582.48L370.77,582.45L373.59,582.43L376.41,582.41L379.22,582.39L382.04,582.38L384.86,582.36L387.67,582.35L390.49,582.34L393.31,582.33L396.12,582.33L398.94,582.32L401.76,582.31L404.58,582.31L407.39,582.31L410.21,582.3L413.03,582.3L415.84,582.3L418.66,582.3L421.48,582.3L424.29,582.3L427.11,582.3L429.93,582.29L432.74,582.29L435.56,582.29L438.38,582.29L441.2,582.29L444.01,582.29L446.83,582.29L449.65,582.29L452.46,582.29L455.28,582.29L458.1,582.29L460.91,582.29L463.73,582.29L466.55,582.29L469.36,582.29L472.18,582.29L475,582.29L477.81,582.29L480.63,582.29L483.45,582.29L486.27,582.29L489.08,582.29L491.9,582.29L494.72,582.29L497.53,582.29L500.35,582.29L503.17,582.29L505.98,582.29L508.8,582.29M58.1,736.61L60.92,736.61L63.73,736.61L66.55,736.61L69.37,736.61L72.18,736.61L75,736.61L77.82,736.61L80.63,736.61L83.45,736.61L86.27,736.61L89.09,736.61L91.9,736.61L94.72,736.61L97.54,736.61L100.35,736.61L103.17,736.61L105.99,736.61L108.8,736.61L111.62,736.61L114.44,736.61L117.25,736.61L120.07,736.61L122.89,736.61L125.71,736.61L128.52,736.61L131.34,736.61L134.16,736.61L136.97,736.61L139.79,736.6L142.61,736.6L145.42,736.6L148.24,736.6L151.06,736.6L153.87,736.6L156.69,736.6L159.51,736.59L162.32,736.59L165.14,736.59L167.96,736.58L170.78,736.57L173.59,736.57L176.41,736.56L179.23,736.55L182.04,736.54L184.86,736.52L187.68,736.51L190.49,736.49L193.31,736.47L196.13,736.45L198.94,736.42L201.76,736.39L204.58,736.36L207.39,736.32L210.21,736.28L213.03,736.24L215.84,736.19L218.66,736.13L221.48,736.08L224.3,736.02L227.11,735.95L229.93,735.89L232.75,735.82L235.56,735.74L238.38,735.67L241.2,735.59L244.01,735.51L246.83,735.44L249.65,735.36L252.46,735.29L255.28,735.22L258.1,735.15L260.92,735.08L263.73,735.02L266.55,734.97L269.37,734.93L272.18,734.89L275,734.86L277.82,734.83L280.63,734.82L283.45,734.82L286.27,734.82L289.08,734.83L291.9,734.86L294.72,734.89L297.53,734.93L300.35,734.97L303.17,735.02L305.99,735.08L308.8,735.15L311.62,735.22L314.44,735.29L317.25,735.36L320.07,735.44L322.89,735.51L325.7,735.59L328.52,735.67L331.34,735.74L334.15,735.82L336.97,735.89L339.79,735.95L342.6,736.02L345.42,736.08L348.24,736.13L351.06,736.19L353.87,736.24L356.69,736.28L359.51,736.32L362.32,736.36L365.14,736.39L367.96,736.42L370.77,736.45L373.59,736.47L376.41,736.49L379.22,736.51L382.04,736.52L384.86,736.54L387.67,736.55L390.49,736.56L393.31,736.57L396.12,736.57L398.94,736.58L401.76,736.59L404.58,736.59L407.39,736.59L410.21,736.6L413.03,736.6L415.84,736.6L418.66,736.6L421.48,736.6L424.29,736.6L427.11,736.6L429.93,736.61L432.74,736.61L435.56,736.61L438.38,736.61L441.2,736.61L444.01,736.61L446.83,736.61L449.65,736.61L452.46,736.61L455.28,736.61L458.1,736.61L460.91,736.61L463.73,736.61L466.55,736.61L469.36,736.61L472.18,736.61L475,736.61L477.81,736.61L480.63,736.61L483.45,736.61L486.27,736.61L489.08,736.61L491.9,736.61L494.72,736.61L497.53,736.61L500.35,736.61L503.17,736.61L505.98,736.61L508.8,736.61M58.1,652.44L61.91,652.44L65.68,652.44L69.39,652.44L73.06,652.44L76.68,652.44L80.25,652.44L83.77,652.44L87.24,652.44L90.67,652.44L94.04,652.44L97.37,652.44L100.65,652.44L103.88,652.44L107.06,652.44L110.2,652.44L113.28,652.44L116.32,652.44L119.3,652.44L122.24,652.44L125.13,652.44L127.97,652.45L130.77,652.45L133.51,652.45L136.21,652.46L138.85,652.46L141.45,652.47L144,652.48L146.51,652.49L148.96,652.5L151.36,652.52L153.72,652.53L156.03,652.55L158.28,652.58L160.49,652.6L162.66,652.63L164.77,652.67L166.83,652.71L168.85,652.75L170.82,652.8L172.74,652.86L174.61,652.92L176.43,652.98L178.2,653.06L179.92,653.14L181.6,653.22L183.23,653.31L184.81,653.41L186.34,653.52L187.82,653.63L189.25,653.75L190.63,653.87L191.97,654.01L193.26,654.15L194.5,654.29L195.69,654.44L196.83,654.6L197.92,654.77L198.97,654.94L199.96,655.11L200.91,655.3L201.81,655.48L202.66,655.68L203.46,655.87L204.21,656.07L204.92,656.28L205.57,656.49L206.18,656.7L206.74,656.92L207.25,657.14L207.71,657.36L208.12,657.59L208.49,657.82L208.8,658.05L209.07,658.28L209.29,658.51L209.46,658.74L209.58,658.98L209.65,659.21L209.68,659.45L209.68,659.45L209.65,659.69L209.58,659.92L209.46,660.16L209.29,660.39L209.07,660.62L208.8,660.85L208.49,661.08L208.12,661.31L207.71,661.54L207.25,661.76L206.74,661.98L206.18,662.2L205.57,662.41L204.92,662.62L204.21,662.83L203.46,663.03L202.66,663.22L201.81,663.42L200.91,663.6L199.96,663.79L198.97,663.96L197.92,664.13L196.83,664.3L195.69,664.46L194.5,664.61L193.26,664.75L191.97,664.89L190.63,665.03L189.25,665.15L187.82,665.27L186.34,665.38L184.81,665.49L183.23,665.59L181.6,665.68L179.92,665.76L178.2,665.84L176.43,665.92L174.61,665.98L172.74,666.04L170.82,666.1L168.85,666.15L166.83,666.19L164.77,666.23L162.66,666.27L160.49,666.3L158.28,666.32L156.03,666.35L153.72,666.37L151.36,666.38L148.96,666.4L146.51,666.41L144,666.42L141.45,666.43L138.85,666.44L136.21,666.44L133.51,666.45L130.77,666.45L127.97,666.45L125.13,666.46L122.24,666.46L119.3,666.46L116.32,666.46L113.28,666.46L110.2,666.46L107.06,666.46L103.88,666.46L100.65,666.46L97.37,666.46L94.04,666.46L90.67,666.46L87.24,666.46L83.77,666.46L80.25,666.46L76.68,666.46L73.06,666.46L69.39,666.46L65.68,666.46L61.91,666.46L58.1,666.46M508.8,652.44L504.99,652.44L501.22,652.44L497.51,652.44L493.84,652.44L490.22,652.44L486.65,652.44L483.13,652.44L479.66,652.44L476.23,652.44L472.86,652.44L469.53,652.44L466.25,652.44L463.02,652.44L459.84,652.44L456.7,652.44L453.62,652.44L450.58,652.44L447.6,652.44L444.66,652.44L441.77,652.44L438.93,652.45L436.13,652.45L433.39,652.45L430.69,652.46L428.05,652.46L425.45,652.47L422.9,652.48L420.39,652.49L417.94,652.5L415.54,652.52L413.18,652.53L410.87,652.55L408.62,652.58L406.41,652.6L404.24,652.63L402.13,652.67L400.07,652.71L398.05,652.75L396.08,652.8L394.16,652.86L392.29,652.92L390.47,652.98L388.7,653.06L386.98,653.14L385.3,653.22L383.67,653.31L382.09,653.41L380.56,653.52L379.08,653.63L377.65,653.75L376.27,653.87L374.93,654.01L373.64,654.15L372.4,654.29L371.21,654.44L370.07,654.6L368.98,654.77L367.93,654.94L366.94,655.11L365.99,655.3L365.09,655.48L364.24,655.68L363.44,655.87L362.69,656.07L361.98,656.28L361.33,656.49L360.72,656.7L360.16,656.92L359.65,657.14L359.19,657.36L358.78,657.59L358.41,657.82L358.1,658.05L357.83,658.28L357.61,658.51L357.44,658.74L357.32,658.98L357.25,659.21L357.22,659.45L357.22,659.45L357.25,659.69L357.32,659.92L357.44,660.16L357.61,660.39L357.83,660.62L358.1,660.85L358.41,661.08L358.78,661.31L359.19,661.54L359.65,661.76L360.16,661.98L360.72,662.2L361.33,662.41L361.98,662.62L362.69,662.83L363.44,663.03L364.24,663.22L365.09,663.42L365.99,663.6L366.94,663.79L367.93,663.96L368.98,664.13L370.07,664.3L371.21,664.46L372.4,664.61L373.64,664.75L374.93,664.89L376.27,665.03L377.65,665.15L379.08,665.27L380.56,665.38L382.09,665.49L383.67,665.59L385.3,665.68L386.98,665.76L388.7,665.84L390.47,665.92L392.29,665.98L394.16,666.04L396.08,666.1L398.05,666.15L400.07,666.19L402.13,666.23L404.24,666.27L406.41,666.3L408.62,666.32L410.87,666.35L413.18,666.37L415.54,666.38L417.94,666.4L420.39,666.41L422.9,666.42L425.45,666.43L428.05,666.44L430.69,666.44L433.39,666.45L436.13,666.45L438.93,666.45L441.77,666.46L444.66,666.46L447.6,666.46L450.58,666.46L453.62,666.46L456.7,666.46L459.84,666.46L463.02,666.46L466.25,666.46L469.53,666.46L472.86,666.46L476.23,666.46L479.66,666.46L483.13,666.46L486.65,666.46L490.22,666.46L493.84,666.46L497.51,666.46L501.22,666.46L504.99,666.46L508.8,666.46M58.1,645.42L62.96,645.42L67.75,645.42L72.48,645.42L77.16,645.42L81.76,645.42L86.31,645.42L90.8,645.42L95.22,645.42L99.58,645.42L103.88,645.42L108.12,645.42L112.3,645.42L116.41,645.42L120.46,645.42L124.45,645.42L128.38,645.43L132.25,645.43L136.05,645.43L139.8,645.44L143.48,645.44L147.1,645.45L150.65,645.46L154.15,645.47L157.58,645.49L160.96,645.51L164.27,645.53L167.51,645.56L170.7,645.6L173.82,645.64L176.89,645.7L179.89,645.76L182.83,645.83L185.7,645.91L188.52,646L191.27,646.11L193.96,646.23L196.59,646.36L199.16,646.5L201.67,646.66L204.11,646.83L206.49,647.02L208.81,647.22L211.07,647.44L213.27,647.66L215.4,647.91L217.47,648.16L219.48,648.43L221.43,648.71L223.32,648.99L225.14,649.29L226.91,649.6L228.61,649.92L230.25,650.24L231.83,650.58L233.34,650.91L234.8,651.26L236.19,651.6L237.52,651.95L238.79,652.31L239.99,652.66L241.14,653.02L242.22,653.38L243.24,653.74L244.2,654.1L245.1,654.47L245.93,654.83L246.71,655.19L247.42,655.55L248.07,655.91L248.65,656.26L249.18,656.62L249.64,656.98L250.05,657.33L250.39,657.69L250.67,658.04L250.88,658.39L251.04,658.75L251.13,659.1L251.16,659.45L251.16,659.45L251.13,659.8L251.04,660.15L250.88,660.51L250.67,660.86L250.39,661.21L250.05,661.57L249.64,661.92L249.18,662.28L248.65,662.64L248.07,662.99L247.42,663.35L246.71,663.71L245.93,664.07L245.1,664.43L244.2,664.8L243.24,665.16L242.22,665.52L241.14,665.88L239.99,666.24L238.79,666.59L237.52,666.95L236.19,667.3L234.8,667.64L233.34,667.99L231.83,668.32L230.25,668.66L228.61,668.98L226.91,669.3L225.14,669.61L223.32,669.91L221.43,670.19L219.48,670.47L217.47,670.74L215.4,670.99L213.27,671.24L211.07,671.46L208.81,671.68L206.49,671.88L204.11,672.07L201.67,672.24L199.16,672.4L196.59,672.54L193.96,672.67L191.27,672.79L188.52,672.9L185.7,672.99L182.83,673.07L179.89,673.14L176.89,673.2L173.82,673.26L170.7,673.3L167.51,673.34L164.27,673.37L160.96,673.39L157.58,673.41L154.15,673.43L150.65,673.44L147.1,673.45L143.48,673.46L139.8,673.46L136.05,673.47L132.25,673.47L128.38,673.47L124.45,673.48L120.46,673.48L116.41,673.48L112.3,673.48L108.12,673.48L103.88,673.48L99.58,673.48L95.22,673.48L90.8,673.48L86.31,673.48L81.76,673.48L77.16,673.48L72.48,673.48L67.75,673.48L62.96,673.48L58.1,673.48M508.8,645.42L503.94,645.42L499.15,645.42L494.42,645.42L489.74,645.42L485.14,645.42L480.59,645.42L476.1,645.42L471.68,645.42L467.32,645.42L463.02,645.42L458.78,645.42L454.6,645.42L450.49,645.42L446.44,645.42L442.45,645.42L438.52,645.43L434.65,645.43L430.85,645.43L427.1,645.44L423.42,645.44L419.8,645.45L416.25,645.46L412.75,645.47L409.32,645.49L405.94,645.51L402.63,645.53L399.39,645.56L396.2,645.6L393.08,645.64L390.01,645.7L387.01,645.76L384.07,645.83L381.2,645.91L378.38,646L375.63,646.11L372.94,646.23L370.31,646.36L367.74,646.5L365.23,646.66L362.79,646.83L360.41,647.02L358.09,647.22L355.83,647.44L353.63,647.66L351.5,647.91L349.43,648.16L347.42,648.43L345.47,648.71L343.58,648.99L341.76,649.29L339.99,649.6L338.29,649.92L336.65,650.24L335.07,650.58L333.56,650.91L332.1,651.26L330.71,651.6L329.38,651.95L328.11,652.31L326.91,652.66L325.76,653.02L324.68,653.38L323.66,653.74L322.7,654.1L321.8,654.47L320.97,654.83L320.19,655.19L319.48,655.55L318.83,655.91L318.25,656.26L317.72,656.62L317.26,656.98L316.85,657.33L316.51,657.69L316.23,658.04L316.02,658.39L315.86,658.75L315.77,659.1L315.74,659.45L315.74,659.45L315.77,659.8L315.86,660.15L316.02,660.51L316.23,660.86L316.51,661.21L316.85,661.57L317.26,661.92L317.72,662.28L318.25,662.64L318.83,662.99L319.48,663.35L320.19,663.71L320.97,664.07L321.8,664.43L322.7,664.8L323.66,665.16L324.68,665.52L325.76,665.88L326.91,666.24L328.11,666.59L329.38,666.95L330.71,667.3L332.1,667.64L333.56,667.99L335.07,668.32L336.65,668.66L338.29,668.98L339.99,669.3L341.76,669.61L343.58,669.91L345.47,670.19L347.42,670.47L349.43,670.74L351.5,670.99L353.63,671.24L355.83,671.46L358.09,671.68L360.41,671.88L362.79,672.07L365.23,672.24L367.74,672.4L370.31,672.54L372.94,672.67L375.63,672.79L378.38,672.9L381.2,672.99L384.07,673.07L387.01,673.14L390.01,673.2L393.08,673.26L396.2,673.3L399.39,673.34L402.63,673.37L405.94,673.39L409.32,673.41L412.75,673.43L416.25,673.44L419.8,673.45L423.42,673.46L427.1,673.46L430.85,673.47L434.65,673.47L438.52,673.47L442.45,673.48L446.44,673.48L450.49,673.48L454.6,673.48L458.78,673.48L463.02,673.48L467.32,673.48L471.68,673.48L476.1,673.48L480.59,673.48L485.14,673.48L489.74,673.48L494.42,673.48L499.15,673.48L503.94,673.48L508.8,673.48"/>
<path d="M58.1,610L60.92,610L63.73,610L66.55,610L69.37,610L72.18,610L75,610L77.82,610L80.63,610L83.45,610L86.27,610L89.09,610L91.9,610L94.72,610L97.54,610L100.35,610L103.17,610L105.99,610L108.8,610L111.62,610L114.44,610L117.25,610L120.07,610L122.89,610L125.71,610L128.52,610L131.34,610L134.16,610L136.97,610L139.79,610L142.61,610.01L145.42,610.01L148.24,610.01L151.06,610.01L153.87,610.01L156.69,610.02L159.51,610.02L162.32,610.03L165.14,610.03L167.96,610.04L170.78,610.05L173.59,610.06L176.41,610.08L179.23,610.09L182.04,610.11L184.86,610.13L187.68,610.15L190.49,610.18L193.31,610.22L196.13,610.25L198.94,610.29L201.76,610.34L204.58,610.39L207.39,610.45L210.21,610.52L213.03,610.59L215.84,610.66L218.66,610.75L221.48,610.84L224.3,610.93L227.11,611.03L229.93,611.14L232.75,611.25L235.56,611.37L238.38,611.49L241.2,611.61L244.01,611.74L246.83,611.86L249.65,611.98L252.46,612.1L255.28,612.22L258.1,612.33L260.92,612.43L263.73,612.53L266.55,612.61L269.37,612.69L272.18,612.75L275,612.8L277.82,612.84L280.63,612.86L283.45,612.87L286.27,612.86L289.08,612.84L291.9,612.8L294.72,612.75L297.53,612.69L300.35,612.61L303.17,612.53L305.99,612.43L308.8,612.33L311.62,612.22L314.44,612.1L317.25,611.98L320.07,611.86L322.89,611.74L325.7,611.61L328.52,611.49L331.34,611.37L334.15,611.25L336.97,611.14L339.79,611.03L342.6,610.93L345.42,610.84L348.24,610.75L351.06,610.66L353.87,610.59L356.69,610.52L359.51,610.45L362.32,610.39L365.14,610.34L367.96,610.29L370.77,610.25L373.59,610.22L376.41,610.18L379.22,610.15L382.04,610.13L384.86,610.11L387.67,610.09L390.49,610.08L393.31,610.06L396.12,610.05L398.94,610.04L401.76,610.03L404.58,610.03L407.39,610.02L410.21,610.02L413.03,610.01L415.84,610.01L418.66,610.01L421.48,610.01L424.29,610.01L427.11,610L429.93,610L432.74,610L435.56,610L438.38,610L441.2,610L444.01,610L446.83,610L449.65,610L452.46,610L455.28,610L458.1,610L460.91,610L463.73,610L466.55,610L469.36,610L472.18,610L475,610L477.81,610L480.63,610L483.45,610L486.27,610L489.08,610L491.9,610L494.72,610L497.53,610L500.35,610L503.17,610L505.98,610L508.8,610L508.8,617.71L505.98,617.71L503.17,617.71L500.35,617.71L497.53,617.71L494.72,617.71L491.9,617.71L489.08,617.71L486.27,617.71L483.45,617.71L480.63,617.71L477.81,617.71L475,617.71L472.18,617.71L469.36,617.71L466.55,617.71L463.73,617.71L460.91,617.71L458.1,617.71L455.28,617.71L452.46,617.71L449.65,617.71L446.83,617.71L444.01,617.72L441.2,617.72L438.38,617.72L435.56,617.72L432.74,617.72L429.93,617.72L427.11,617.72L424.29,617.72L421.48,617.72L418.66,617.72L415.84,617.73L413.03,617.73L410.21,617.73L407.39,617.74L404.58,617.75L401.76,617.75L398.94,617.76L396.12,617.77L393.31,617.79L390.49,617.8L387.67,617.82L384.86,617.84L382.04,617.87L379.22,617.89L376.41,617.93L373.59,617.97L370.77,618.01L367.96,618.06L365.14,618.11L362.32,618.17L359.51,618.24L356.69,618.32L353.87,618.4L351.06,618.49L348.24,618.59L345.42,618.69L342.6,618.81L339.79,618.93L336.97,619.05L334.15,619.18L331.34,619.32L328.52,619.46L325.7,619.61L322.89,619.75L320.07,619.9L317.25,620.04L314.44,620.19L311.62,620.32L308.8,620.46L305.99,620.58L303.17,620.69L300.35,620.79L297.53,620.88L294.72,620.96L291.9,621.02L289.08,621.06L286.27,621.09L283.45,621.1L280.63,621.09L277.82,621.06L275,621.02L272.18,620.96L269.37,620.88L266.55,620.79L263.73,620.69L260.92,620.58L258.1,620.46L255.28,620.32L252.46,620.19L249.65,620.04L246.83,619.9L244.01,619.75L241.2,619.61L238.38,619.46L235.56,619.32L232.75,619.18L229.93,619.05L227.11,618.93L224.3,618.81L221.48,618.69L218.66,618.59L215.84,618.49L213.03,618.4L210.21,618.32L207.39,618.24L204.58,618.17L201.76,618.11L198.94,618.06L196.13,618.01L193.31,617.97L190.49,617.93L187.68,617.89L184.86,617.87L182.04,617.84L179.23,617.82L176.41,617.8L173.59,617.79L170.78,617.77L167.96,617.76L165.14,617.75L162.32,617.75L159.51,617.74L156.69,617.73L153.87,617.73L151.06,617.73L148.24,617.72L145.42,617.72L142.61,617.72L139.79,617.72L136.97,617.72L134.16,617.72L131.34,617.72L128.52,617.72L125.71,617.72L122.89,617.72L120.07,617.71L117.25,617.71L114.44,617.71L111.62,617.71L108.8,617.71L105.99,617.71L103.17,617.71L100.35,617.71L97.54,617.71L94.72,617.71L91.9,617.71L89.09,617.71L86.27,617.71L83.45,617.71L80.63,617.71L77.82,617.71L75,617.71L72.18,617.71L69.37,617.71L66.55,617.71L63.73,617.71L60.92,617.71L58.1,617.71Z" fill="#fbadaf" fill-opacity="0.55" stroke="none"/>
<path d="M58.1,577.3L60.92,577.3L63.73,577.3L66.55,577.3L69.37,577.3L72.18,577.3L75,577.3L77.82,577.3L80.63,577.3L83.45,577.3L86.27,577.3L89.09,577.3L91.9,577.3L94.72,577.3L97.54,577.3L100.35,577.3L103.17,577.29L105.99,577.29L108.8,577.29L111.62,577.29L114.44,577.28L117.25,577.27L120.07,577.27L122.89,577.25L125.71,577.24L128.52,577.22L131.34,577.19L134.16,577.16L136.97,577.12L139.79,577.07L142.61,577L145.42,576.91L148.24,576.81L151.06,576.68L153.87,576.51L156.69,576.31L159.51,576.07L162.32,575.77L165.14,575.4L167.96,574.97L170.78,574.44L173.59,573.82L176.41,573.08L179.23,572.21L182.04,571.19L184.86,570.01L187.68,568.64L190.49,567.06L193.31,565.25L196.13,563.19L198.94,560.87L201.76,558.26L204.58,555.34L207.39,552.1L210.21,548.53L213.03,544.62L215.84,540.36L218.66,535.76L221.48,530.81L224.3,525.53L227.11,519.95L229.93,514.07L232.75,507.94L235.56,501.6L238.38,495.09L241.2,488.47L244.01,481.79L246.83,475.12L249.65,468.53L252.46,462.09L255.28,455.88L258.1,449.97L260.92,444.45L263.73,439.37L266.55,434.81L269.37,430.84L272.18,427.51L275,424.86L277.82,422.95L280.63,421.78L283.45,421.4L286.27,421.78L289.08,422.95L291.9,424.86L294.72,427.51L297.53,430.84L300.35,434.81L303.17,439.37L305.99,444.45L308.8,449.97L311.62,455.88L314.44,462.09L317.25,468.53L320.07,475.12L322.89,481.79L325.7,488.47L328.52,495.09L331.34,501.6L334.15,507.94L336.97,514.07L339.79,519.95L342.6,525.53L345.42,530.81L348.24,535.76L351.06,540.36L353.87,544.62L356.69,548.53L359.51,552.1L362.32,555.34L365.14,558.26L367.96,560.87L370.77,563.19L373.59,565.25L376.41,567.06L379.22,568.64L382.04,570.01L384.86,571.19L387.67,572.21L390.49,573.08L393.31,573.82L396.12,574.44L398.94,574.97L401.76,575.4L404.58,575.77L407.39,576.07L410.21,576.31L413.03,576.51L415.84,576.68L418.66,576.81L421.48,576.91L424.29,577L427.11,577.07L429.93,577.12L432.74,577.16L435.56,577.19L438.38,577.22L441.2,577.24L444.01,577.25L446.83,577.27L449.65,577.27L452.46,577.28L455.28,577.29L458.1,577.29L460.91,577.29L463.73,577.29L466.55,577.3L469.36,577.3L472.18,577.3L475,577.3L477.81,577.3L480.63,577.3L483.45,577.3L486.27,577.3L489.08,577.3L491.9,577.3L494.72,577.3L497.53,577.3L500.35,577.3L503.17,577.3L505.98,577.3L508.8,577.3"/>
<path d="M58.1,413.6H508.8V741H58.1ZM58.1,577.3H508.8"/>
<path d="M86.27,413.6v4.5M86.27,572.8v9M86.27,741v-4.5M114.44,413.6v4.5M114.44,572.8v9M114.44,741v-4.5M142.61,413.6v4.5M142.61,572.8v9M142.61,741v-4.5M170.78,413.6v8.3M170.78,569v16.6M170.78,741v-8.3M198.94,413.6v4.5M198.94,572.8v9M198.94,741v-4.5M227.11,413.6v4.5M227.11,572.8v9M227.11,741v-4.5M255.28,413.6v4.5M255.28,572.8v9M255.28,741v-4.5M283.45,413.6v8.3M283.45,569v16.6M283.45,741v-8.3M311.62,413.6v4.5M311.62,572.8v9M311.62,741v-4.5M339.79,413.6v4.5M339.79,572.8v9M339.79,741v-4.5M367.96,413.6v4.5M367.96,572.8v9M367.96,741v-4.5M396.12,413.6v8.3M396.12,569v16.6M396.12,741v-8.3M424.29,413.6v4.5M424.29,572.8v9M424.29,741v-4.5M452.46,413.6v4.5M452.46,572.8v9M452.46,741v-4.5M480.63,413.6v4.5M480.63,572.8v9M480.63,741v-4.5M58.1,562.02h4.5M508.8,562.02h-4.5M58.1,546.73h4.5M508.8,546.73h-4.5M58.1,531.45h4.5M508.8,531.45h-4.5M58.1,516.16h8.3M508.8,516.16h-8.3M58.1,500.88h4.5M508.8,500.88h-4.5M58.1,485.59h4.5M508.8,485.59h-4.5M58.1,470.31h4.5M508.8,470.31h-4.5M58.1,455.02h8.3M508.8,455.02h-8.3M58.1,439.74h4.5M508.8,439.74h-4.5M58.1,424.45h4.5M508.8,424.45h-4.5M58.1,659.45h8.3M508.8,659.45h-8.3"/>
</g>
<g fill="none" stroke="#d22f3c" stroke-width="1.25"><path d="M77,610.26L83.2,613.86L77,617.46M483.3,610.26L489.7,613.86L483.3,617.46"/></g>
<g class="tb"><text class="d" x="26.3" y="459.82" textLength="21" lengthAdjust="spacing">0.4</text>
<text class="d" x="26.3" y="520.96" textLength="21" lengthAdjust="spacing">0.2</text>
<text class="d" x="26.3" y="582.1" textLength="21" lengthAdjust="spacing">0.0</text>
<text class="s" transform="translate(12.2,539.9) rotate(-90)"><tspan x="0" textLength="59.3" lengthAdjust="spacing">Potential</tspan> <tspan x="81.2" y="0.4" class="p">ϕ</tspan></text>
<text class="s" y="499.9"><tspan x="95" textLength="49" lengthAdjust="spacing">Electric</tspan> <tspan x="152.7" textLength="59.4" lengthAdjust="spacing">Potential</tspan></text>
<rect x="111.5" y="586.2" width="54.5" height="13.6" fill="#fff"/>
<text class="s" x="113" y="597.7" textLength="52.3" lengthAdjust="spacing">Passing</text>
<text class="d" x="17.4" y="608.14" textLength="29.8" lengthAdjust="spacing">0.08</text>
<text class="d" x="17.4" y="636.19" textLength="29.8" lengthAdjust="spacing">0.04</text>
<text class="d" x="17.4" y="664.25" textLength="29.8" lengthAdjust="spacing">0.00</text>
<text class="d" x="7.8" y="692.31" textLength="39.4" lengthAdjust="spacing">−0.04</text>
<text class="d" x="7.8" y="720.36" textLength="39.4" lengthAdjust="spacing">−0.08</text>
<text class="s" transform="translate(11.9,693) rotate(-90)"><tspan x="0" textLength="49.5" lengthAdjust="spacing">velocity</tspan> <tspan x="57" class="i" style="font-size:13.5px" textLength="8.5" lengthAdjust="spacingAndGlyphs">v</tspan></text>
<text class="s" x="107.5" y="663.7" textLength="62" lengthAdjust="spacing">Reflected</text>
<text class="s" x="397" y="663.7" textLength="61.8" lengthAdjust="spacing">Reflected</text>
<rect x="92.4" y="724.4" width="44.6" height="11.4" fill="#fff"/>
<rect x="143.2" y="724.4" width="59" height="11.4" fill="#fff"/>
<rect x="209.8" y="724.4" width="10.6" height="11.4" fill="#fff"/>
<rect x="228.2" y="724.4" width="45.6" height="11.4" fill="#fff"/>
<rect x="281.2" y="724.4" width="59.6" height="11.4" fill="#fff"/>
<rect x="349.6" y="724.4" width="10.6" height="11.4" fill="#fff"/>
<rect x="367" y="724.4" width="39.8" height="11.4" fill="#fff"/>
<text class="s" y="736.6"><tspan x="94.6" class="m mi">f</tspan><tspan x="101" y="736.1" class="m mp">(</tspan><tspan x="105.4" y="736.6" class="m mi" textLength="8.8" lengthAdjust="spacingAndGlyphs">v</tspan><tspan x="115" class="m">,</tspan><tspan x="121" class="m mi" textLength="9.2" lengthAdjust="spacingAndGlyphs">x</tspan><tspan x="130.8" y="736.1" class="m mp">)</tspan> <tspan x="144" y="736.6" textLength="57.4" lengthAdjust="spacing">contours</tspan> <tspan x="210.6" y="736.6" textLength="9" lengthAdjust="spacingAndGlyphs">=</tspan> <tspan x="229" y="736.6" textLength="44" lengthAdjust="spacing">energy</tspan> <tspan x="282" y="736.6" textLength="58" lengthAdjust="spacing">contours</tspan> <tspan x="350.4" y="736.6" textLength="9" lengthAdjust="spacingAndGlyphs">=</tspan> <tspan x="367.8" y="736.6" textLength="38.2" lengthAdjust="spacing">orbits</tspan></text>
<text class="d" x="42.65" y="766.1" textLength="31.5" lengthAdjust="spacing">−4.0</text>
<text class="d" x="155.33" y="766.1" textLength="31.5" lengthAdjust="spacing">−2.0</text>
<text class="d" x="272.55" y="766.1" textLength="21.2" lengthAdjust="spacing">0.0</text>
<text class="d" x="385.22" y="766.1" textLength="21.2" lengthAdjust="spacing">2.0</text>
<text class="d" x="496.7" y="766.1" textLength="21.2" lengthAdjust="spacing">4.0</text>
<text class="s" y="785.5"><tspan x="249.2" textLength="51.8" lengthAdjust="spacing">position</tspan> <tspan x="308.8" class="i" style="font-size:15px" textLength="9.6" lengthAdjust="spacingAndGlyphs">x</tspan></text>
<text class="r" x="274.5" y="802.2" textLength="18.8" lengthAdjust="spacing">(b)</text></g>
</svg>
</body></html>
